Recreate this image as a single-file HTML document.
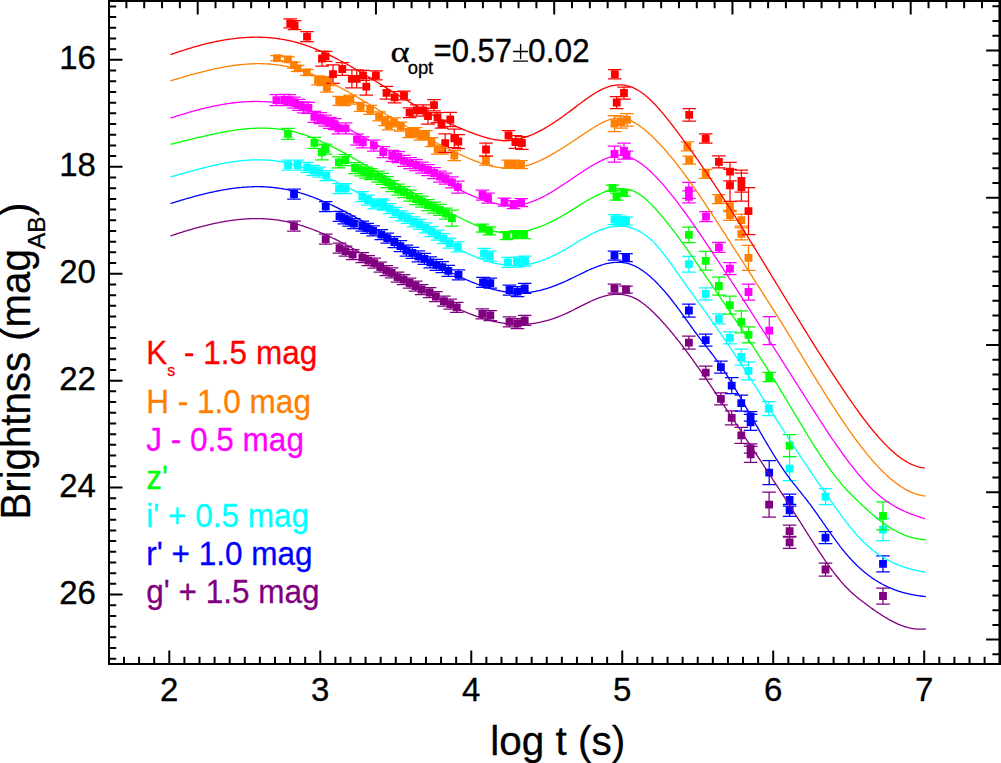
<!DOCTYPE html>
<html><head><meta charset="utf-8"><style>
html,body{margin:0;padding:0;background:#fff;}
svg{display:block;}
text{font-family:"Liberation Sans",sans-serif;fill:#000;stroke:#000;stroke-width:0.3px;}
.t33{font-size:33px;}
.t335{font-size:33.5px;}
.t405{font-size:40.5px;}
.t426{font-size:42.6px;}
.tser{font-size:33px;font-family:"Liberation Serif",serif;}
</style></head><body>
<svg width="1001" height="763" viewBox="0 0 1001 763">
<path d="M294.00 221.20V231.20M287.20 221.20H300.80M287.20 231.20H300.80M325.70 234.10V244.10M318.90 234.10H332.50M318.90 244.10H332.50M339.50 243.10V253.10M332.70 243.10H346.30M332.70 253.10H346.30M345.50 246.10V256.10M338.70 246.10H352.30M338.70 256.10H352.30M352.70 249.70V259.70M345.90 249.70H359.50M345.90 259.70H359.50M362.30 252.70V262.70M355.50 252.70H369.10M355.50 262.70H369.10M368.30 255.70V265.70M361.50 255.70H375.10M361.50 265.70H375.10M374.30 258.10V268.10M367.50 258.10H381.10M367.50 268.10H381.10M380.30 262.00V272.00M373.50 262.00H387.10M373.50 272.00H387.10M386.30 265.60V275.60M379.50 265.60H393.10M379.50 275.60H393.10M391.60 267.80V277.80M384.80 267.80H398.40M384.80 277.80H398.40M397.60 272.10V282.10M390.80 272.10H404.40M390.80 282.10H404.40M403.60 274.70V284.70M396.80 274.70H410.40M396.80 284.70H410.40M409.60 278.00V288.00M402.80 278.00H416.40M402.80 288.00H416.40M415.60 281.00V291.00M408.80 281.00H422.40M408.80 291.00H422.40M421.60 284.50V294.50M414.80 284.50H428.40M414.80 294.50H428.40M429.60 287.50V297.50M422.80 287.50H436.40M422.80 297.50H436.40M435.90 291.50V301.50M429.10 291.50H442.70M429.10 301.50H442.70M443.90 296.10V306.10M437.10 296.10H450.70M437.10 306.10H450.70M450.30 299.20V309.20M443.50 299.20H457.10M443.50 309.20H457.10M456.70 302.40V312.40M449.90 302.40H463.50M449.90 312.40H463.50M482.30 308.90V318.90M475.50 308.90H489.10M475.50 318.90H489.10M490.30 310.50V320.50M483.50 310.50H497.10M483.50 320.50H497.10M509.50 316.90V326.90M502.70 316.90H516.30M502.70 326.90H516.30M517.50 318.50V328.50M510.70 318.50H524.30M510.70 328.50H524.30M524.70 315.30V325.30M517.90 315.30H531.50M517.90 325.30H531.50M614.50 284.00V293.00M607.70 284.00H621.30M607.70 293.00H621.30M626.00 286.00V293.00M619.20 286.00H632.80M619.20 293.00H632.80M688.90 336.10V349.10M682.10 336.10H695.70M682.10 349.10H695.70M705.70 366.10V379.10M698.90 366.10H712.50M698.90 379.10H712.50M720.90 392.90V404.90M714.10 392.90H727.70M714.10 404.90H727.70M731.70 410.80V424.80M724.90 410.80H738.50M724.90 424.80H738.50M741.30 427.40V443.40M734.50 427.40H748.10M734.50 443.40H748.10M750.60 443.80V453.20M743.80 443.80H757.40M743.80 453.20H757.40M750.60 446.40V462.40M743.80 446.40H757.40M743.80 462.40H757.40M769.10 492.20V517.20M762.30 492.20H775.90M762.30 517.20H775.90M789.60 525.20V537.20M782.80 525.20H796.40M782.80 537.20H796.40M789.60 536.40V548.40M782.80 536.40H796.40M782.80 548.40H796.40M825.50 563.00V576.00M818.70 563.00H832.30M818.70 576.00H832.30M883.00 588.00V604.00M876.20 588.00H889.80M876.20 604.00H889.80" stroke="#800080" stroke-width="1.25" fill="none"/>
<path d="M290.10 222.30h7.8v7.8h-7.8zM321.80 235.20h7.8v7.8h-7.8zM335.60 244.20h7.8v7.8h-7.8zM341.60 247.20h7.8v7.8h-7.8zM348.80 250.80h7.8v7.8h-7.8zM358.40 253.80h7.8v7.8h-7.8zM364.40 256.80h7.8v7.8h-7.8zM370.40 259.20h7.8v7.8h-7.8zM376.40 263.10h7.8v7.8h-7.8zM382.40 266.70h7.8v7.8h-7.8zM387.70 268.90h7.8v7.8h-7.8zM393.70 273.20h7.8v7.8h-7.8zM399.70 275.80h7.8v7.8h-7.8zM405.70 279.10h7.8v7.8h-7.8zM411.70 282.10h7.8v7.8h-7.8zM417.70 285.60h7.8v7.8h-7.8zM425.70 288.60h7.8v7.8h-7.8zM432.00 292.60h7.8v7.8h-7.8zM440.00 297.20h7.8v7.8h-7.8zM446.40 300.30h7.8v7.8h-7.8zM452.80 303.50h7.8v7.8h-7.8zM478.40 310.00h7.8v7.8h-7.8zM486.40 311.60h7.8v7.8h-7.8zM505.60 318.00h7.8v7.8h-7.8zM513.60 319.60h7.8v7.8h-7.8zM520.80 316.40h7.8v7.8h-7.8zM610.60 284.60h7.8v7.8h-7.8zM622.10 285.60h7.8v7.8h-7.8zM685.00 338.70h7.8v7.8h-7.8zM701.80 368.70h7.8v7.8h-7.8zM717.00 395.00h7.8v7.8h-7.8zM727.80 413.90h7.8v7.8h-7.8zM737.40 431.50h7.8v7.8h-7.8zM746.70 444.60h7.8v7.8h-7.8zM746.70 450.50h7.8v7.8h-7.8zM765.20 500.80h7.8v7.8h-7.8zM785.70 527.30h7.8v7.8h-7.8zM785.70 538.50h7.8v7.8h-7.8zM821.60 565.60h7.8v7.8h-7.8zM879.10 592.10h7.8v7.8h-7.8z" fill="#800080"/>
<path d="M294.00 189.00V199.00M287.20 189.00H300.80M287.20 199.00H300.80M325.70 201.50V211.50M318.90 201.50H332.50M318.90 211.50H332.50M339.50 211.40V221.40M332.70 211.40H346.30M332.70 221.40H346.30M344.30 213.80V223.80M337.50 213.80H351.10M337.50 223.80H351.10M349.10 216.20V226.20M342.30 216.20H355.90M342.30 226.20H355.90M353.90 218.60V228.60M347.10 218.60H360.70M347.10 228.60H360.70M362.30 221.00V231.00M355.50 221.00H369.10M355.50 231.00H369.10M367.10 223.40V233.40M360.30 223.40H373.90M360.30 233.40H373.90M373.10 225.80V235.80M366.30 225.80H379.90M366.30 235.80H379.90M381.30 229.60V239.60M374.50 229.60H388.10M374.50 239.60H388.10M387.30 233.20V243.20M380.50 233.20H394.10M380.50 243.20H394.10M394.40 236.50V247.50M387.60 236.50H401.20M387.60 247.50H401.20M400.40 240.70V251.70M393.60 240.70H407.20M393.60 251.70H407.20M406.40 245.00V256.00M399.60 245.00H413.20M399.60 256.00H413.20M412.40 247.30V258.30M405.60 247.30H419.20M405.60 258.30H419.20M418.40 250.90V261.90M411.60 250.90H425.20M411.60 261.90H425.20M424.40 253.30V264.30M417.60 253.30H431.20M417.60 264.30H431.20M430.30 256.90V267.90M423.50 256.90H437.10M423.50 267.90H437.10M436.30 259.30V270.30M429.50 259.30H443.10M429.50 270.30H443.10M442.30 261.70V272.70M435.50 261.70H449.10M435.50 272.70H449.10M448.30 265.30V276.30M441.50 265.30H455.10M441.50 276.30H455.10M458.50 269.80V279.80M451.70 269.80H465.30M451.70 279.80H465.30M483.00 277.30V287.30M476.20 277.30H489.80M476.20 287.30H489.80M490.30 278.20V288.20M483.50 278.20H497.10M483.50 288.20H497.10M509.50 285.00V295.00M502.70 285.00H516.30M502.70 295.00H516.30M517.50 286.60V296.60M510.70 286.60H524.30M510.70 296.60H524.30M524.70 283.40V293.40M517.90 283.40H531.50M517.90 293.40H531.50M614.50 251.00V260.00M607.70 251.00H621.30M607.70 260.00H621.30M626.00 253.50V261.50M619.20 253.50H632.80M619.20 261.50H632.80M688.90 304.00V317.00M682.10 304.00H695.70M682.10 317.00H695.70M705.70 334.20V346.20M698.90 334.20H712.50M698.90 346.20H712.50M720.90 361.20V373.20M714.10 361.20H727.70M714.10 373.20H727.70M731.70 377.70V393.70M724.90 377.70H738.50M724.90 393.70H738.50M741.30 395.10V411.10M734.50 395.10H748.10M734.50 411.10H748.10M750.60 411.70V421.10M743.80 411.70H757.40M743.80 421.10H757.40M750.60 414.30V430.30M743.80 414.30H757.40M743.80 430.30H757.40M769.20 460.70V484.70M762.40 460.70H776.00M762.40 484.70H776.00M789.60 494.00V506.00M782.80 494.00H796.40M782.80 506.00H796.40M789.60 504.30V516.30M782.80 504.30H796.40M782.80 516.30H796.40M825.50 531.60V543.60M818.70 531.60H832.30M818.70 543.60H832.30M883.00 555.80V571.80M876.20 555.80H889.80M876.20 571.80H889.80" stroke="#0000ff" stroke-width="1.25" fill="none"/>
<path d="M290.10 190.10h7.8v7.8h-7.8zM321.80 202.60h7.8v7.8h-7.8zM335.60 212.50h7.8v7.8h-7.8zM340.40 214.90h7.8v7.8h-7.8zM345.20 217.30h7.8v7.8h-7.8zM350.00 219.70h7.8v7.8h-7.8zM358.40 222.10h7.8v7.8h-7.8zM363.20 224.50h7.8v7.8h-7.8zM369.20 226.90h7.8v7.8h-7.8zM377.40 230.70h7.8v7.8h-7.8zM383.40 234.30h7.8v7.8h-7.8zM390.50 238.10h7.8v7.8h-7.8zM396.50 242.30h7.8v7.8h-7.8zM402.50 246.60h7.8v7.8h-7.8zM408.50 248.90h7.8v7.8h-7.8zM414.50 252.50h7.8v7.8h-7.8zM420.50 254.90h7.8v7.8h-7.8zM426.40 258.50h7.8v7.8h-7.8zM432.40 260.90h7.8v7.8h-7.8zM438.40 263.30h7.8v7.8h-7.8zM444.40 266.90h7.8v7.8h-7.8zM454.60 270.90h7.8v7.8h-7.8zM479.10 278.40h7.8v7.8h-7.8zM486.40 279.30h7.8v7.8h-7.8zM505.60 286.10h7.8v7.8h-7.8zM513.60 287.70h7.8v7.8h-7.8zM520.80 284.50h7.8v7.8h-7.8zM610.60 251.60h7.8v7.8h-7.8zM622.10 253.60h7.8v7.8h-7.8zM685.00 306.60h7.8v7.8h-7.8zM701.80 336.30h7.8v7.8h-7.8zM717.00 363.30h7.8v7.8h-7.8zM727.80 381.80h7.8v7.8h-7.8zM737.40 399.20h7.8v7.8h-7.8zM746.70 412.50h7.8v7.8h-7.8zM746.70 418.40h7.8v7.8h-7.8zM765.30 468.80h7.8v7.8h-7.8zM785.70 496.10h7.8v7.8h-7.8zM785.70 506.40h7.8v7.8h-7.8zM821.60 533.70h7.8v7.8h-7.8zM879.10 559.90h7.8v7.8h-7.8z" fill="#0000ff"/>
<path d="M288.00 160.20V170.20M281.20 160.20H294.80M281.20 170.20H294.80M297.60 160.00V170.00M290.80 160.00H304.40M290.80 170.00H304.40M307.20 162.40V172.40M300.40 162.40H314.00M300.40 172.40H314.00M313.20 165.30V175.30M306.40 165.30H320.00M306.40 175.30H320.00M319.10 167.10V177.10M312.30 167.10H325.90M312.30 177.10H325.90M326.30 170.70V180.70M319.50 170.70H333.10M319.50 180.70H333.10M339.00 183.50V193.50M332.20 183.50H345.80M332.20 193.50H345.80M345.50 183.50V193.50M338.70 183.50H352.30M338.70 193.50H352.30M362.30 191.70V201.70M355.50 191.70H369.10M355.50 201.70H369.10M368.00 195.00V205.00M361.20 195.00H374.80M361.20 205.00H374.80M374.30 198.90V208.90M367.50 198.90H381.10M367.50 208.90H381.10M381.50 198.90V208.90M374.70 198.90H388.30M374.70 208.90H388.30M383.60 200.10V210.10M376.80 200.10H390.40M376.80 210.10H390.40M389.60 203.70V213.70M382.80 203.70H396.40M382.80 213.70H396.40M395.60 207.30V217.30M388.80 207.30H402.40M388.80 217.30H402.40M401.60 210.90V220.90M394.80 210.90H408.40M394.80 220.90H408.40M407.60 213.30V223.30M400.80 213.30H414.40M400.80 223.30H414.40M413.60 216.90V226.90M406.80 216.90H420.40M406.80 226.90H420.40M419.60 219.30V229.30M412.80 219.30H426.40M412.80 229.30H426.40M425.60 222.90V232.90M418.80 222.90H432.40M418.80 232.90H432.40M431.50 226.50V236.50M424.70 226.50H438.30M424.70 236.50H438.30M437.50 230.10V240.10M430.70 230.10H444.30M430.70 240.10H444.30M443.50 233.70V243.70M436.70 233.70H450.30M436.70 243.70H450.30M449.50 238.20V248.20M442.70 238.20H456.30M442.70 248.20H456.30M457.90 241.80V251.80M451.10 241.80H464.70M451.10 251.80H464.70M484.00 248.40V258.40M477.20 248.40H490.80M477.20 258.40H490.80M490.00 251.00V261.00M483.20 251.00H496.80M483.20 261.00H496.80M508.00 257.40V267.40M501.20 257.40H514.80M501.20 267.40H514.80M517.00 257.00V267.00M510.20 257.00H523.80M510.20 267.00H523.80M525.00 256.00V266.00M518.20 256.00H531.80M518.20 266.00H531.80M614.50 214.50V224.50M607.70 214.50H621.30M607.70 224.50H621.30M620.00 216.00V226.00M613.20 216.00H626.80M613.20 226.00H626.80M626.00 217.00V225.00M619.20 217.00H632.80M619.20 225.00H632.80M688.90 256.40V272.00M682.10 256.40H695.70M682.10 272.00H695.70M705.70 287.80V299.80M698.90 287.80H712.50M698.90 299.80H712.50M718.90 313.90V323.90M712.10 313.90H725.70M712.10 323.90H725.70M729.90 331.80V343.80M723.10 331.80H736.70M723.10 343.80H736.70M741.30 349.00V365.00M734.50 349.00H748.10M734.50 365.00H748.10M748.50 361.80V379.80M741.70 361.80H755.30M741.70 379.80H755.30M768.80 401.70V415.70M762.00 401.70H775.60M762.00 415.70H775.60M789.60 456.70V480.70M782.80 456.70H796.40M782.80 480.70H796.40M825.50 488.70V504.70M818.70 488.70H832.30M818.70 504.70H832.30M883.00 518.70V540.70M876.20 518.70H889.80M876.20 540.70H889.80" stroke="#00ffff" stroke-width="1.25" fill="none"/>
<path d="M284.10 161.30h7.8v7.8h-7.8zM293.70 161.10h7.8v7.8h-7.8zM303.30 163.50h7.8v7.8h-7.8zM309.30 166.40h7.8v7.8h-7.8zM315.20 168.20h7.8v7.8h-7.8zM322.40 171.80h7.8v7.8h-7.8zM335.10 184.60h7.8v7.8h-7.8zM341.60 184.60h7.8v7.8h-7.8zM358.40 192.80h7.8v7.8h-7.8zM364.10 196.10h7.8v7.8h-7.8zM370.40 200.00h7.8v7.8h-7.8zM377.60 200.00h7.8v7.8h-7.8zM379.70 201.20h7.8v7.8h-7.8zM385.70 204.80h7.8v7.8h-7.8zM391.70 208.40h7.8v7.8h-7.8zM397.70 212.00h7.8v7.8h-7.8zM403.70 214.40h7.8v7.8h-7.8zM409.70 218.00h7.8v7.8h-7.8zM415.70 220.40h7.8v7.8h-7.8zM421.70 224.00h7.8v7.8h-7.8zM427.60 227.60h7.8v7.8h-7.8zM433.60 231.20h7.8v7.8h-7.8zM439.60 234.80h7.8v7.8h-7.8zM445.60 239.30h7.8v7.8h-7.8zM454.00 242.90h7.8v7.8h-7.8zM480.10 249.50h7.8v7.8h-7.8zM486.10 252.10h7.8v7.8h-7.8zM504.10 258.50h7.8v7.8h-7.8zM513.10 258.10h7.8v7.8h-7.8zM521.10 257.10h7.8v7.8h-7.8zM610.60 215.60h7.8v7.8h-7.8zM616.10 217.10h7.8v7.8h-7.8zM622.10 217.10h7.8v7.8h-7.8zM685.00 260.30h7.8v7.8h-7.8zM701.80 289.90h7.8v7.8h-7.8zM715.00 315.00h7.8v7.8h-7.8zM726.00 333.90h7.8v7.8h-7.8zM737.40 353.10h7.8v7.8h-7.8zM744.60 366.90h7.8v7.8h-7.8zM764.90 404.80h7.8v7.8h-7.8zM785.70 464.80h7.8v7.8h-7.8zM821.60 492.80h7.8v7.8h-7.8zM879.10 525.80h7.8v7.8h-7.8z" fill="#00ffff"/>
<path d="M288.00 128.30V139.30M281.20 128.30H294.80M281.20 139.30H294.80M314.40 137.30V148.30M307.60 137.30H321.20M307.60 148.30H321.20M321.90 144.80V159.80M315.10 144.80H328.70M315.10 159.80H328.70M325.60 144.20V154.20M318.80 144.20H332.40M318.80 154.20H332.40M338.90 156.80V167.80M332.10 156.80H345.70M332.10 167.80H345.70M345.50 154.50V165.50M338.70 154.50H352.30M338.70 165.50H352.30M355.10 162.50V173.50M348.30 162.50H361.90M348.30 173.50H361.90M361.10 164.80V175.80M354.30 164.80H367.90M354.30 175.80H367.90M366.00 167.20V178.20M359.20 167.20H372.80M359.20 178.20H372.80M370.80 168.50V179.50M364.00 168.50H377.60M364.00 179.50H377.60M378.00 171.20V182.20M371.20 171.20H384.80M371.20 182.20H384.80M382.40 173.30V184.30M375.60 173.30H389.20M375.60 184.30H389.20M387.20 176.70V187.70M380.40 176.70H394.00M380.40 187.70H394.00M392.00 180.50V191.50M385.20 180.50H398.80M385.20 191.50H398.80M398.00 184.10V195.10M391.20 184.10H404.80M391.20 195.10H404.80M404.00 186.50V197.50M397.20 186.50H410.80M397.20 197.50H410.80M410.00 190.10V201.10M403.20 190.10H416.80M403.20 201.10H416.80M416.00 193.60V204.60M409.20 193.60H422.80M409.20 204.60H422.80M422.00 196.00V207.00M415.20 196.00H428.80M415.20 207.00H428.80M428.00 199.60V210.60M421.20 199.60H434.80M421.20 210.60H434.80M434.00 202.00V213.00M427.20 202.00H440.80M427.20 213.00H440.80M439.90 204.40V215.40M433.10 204.40H446.70M433.10 215.40H446.70M445.90 208.00V219.00M439.10 208.00H452.70M439.10 219.00H452.70M451.90 210.20V226.20M445.10 210.20H458.70M445.10 226.20H458.70M482.50 224.00V232.00M475.70 224.00H489.30M475.70 232.00H489.30M489.30 226.80V234.80M482.50 226.80H496.10M482.50 234.80H496.10M506.50 231.50V239.50M499.70 231.50H513.30M499.70 239.50H513.30M516.00 230.50V238.50M509.20 230.50H522.80M509.20 238.50H522.80M524.00 230.50V238.50M517.20 230.50H530.80M517.20 238.50H530.80M612.50 185.00V191.00M605.70 185.00H619.30M605.70 191.00H619.30M616.50 193.00V200.00M609.70 193.00H623.30M609.70 200.00H623.30M624.00 190.00V196.00M617.20 190.00H630.80M617.20 196.00H630.80M688.90 227.00V242.60M682.10 227.00H695.70M682.10 242.60H695.70M705.70 251.40V270.20M698.90 251.40H712.50M698.90 270.20H712.50M718.90 277.00V295.00M712.10 277.00H725.70M712.10 295.00H725.70M729.90 296.10V314.10M723.10 296.10H736.70M723.10 314.10H736.70M741.30 310.90V332.90M734.50 310.90H748.10M734.50 332.90H748.10M748.50 326.80V342.80M741.70 326.80H755.30M741.70 342.80H755.30M769.20 372.30V381.70M762.40 372.30H776.00M762.40 381.70H776.00M789.60 434.60V456.60M782.80 434.60H796.40M782.80 456.60H796.40M883.00 501.80V529.80M876.20 501.80H889.80M876.20 529.80H889.80" stroke="#00ff00" stroke-width="1.25" fill="none"/>
<path d="M284.10 129.90h7.8v7.8h-7.8zM310.50 138.90h7.8v7.8h-7.8zM318.00 148.40h7.8v7.8h-7.8zM321.70 145.30h7.8v7.8h-7.8zM335.00 158.40h7.8v7.8h-7.8zM341.60 156.10h7.8v7.8h-7.8zM351.20 164.10h7.8v7.8h-7.8zM357.20 166.40h7.8v7.8h-7.8zM362.10 168.80h7.8v7.8h-7.8zM366.90 170.10h7.8v7.8h-7.8zM374.10 172.80h7.8v7.8h-7.8zM378.50 174.90h7.8v7.8h-7.8zM383.30 178.30h7.8v7.8h-7.8zM388.10 182.10h7.8v7.8h-7.8zM394.10 185.70h7.8v7.8h-7.8zM400.10 188.10h7.8v7.8h-7.8zM406.10 191.70h7.8v7.8h-7.8zM412.10 195.20h7.8v7.8h-7.8zM418.10 197.60h7.8v7.8h-7.8zM424.10 201.20h7.8v7.8h-7.8zM430.10 203.60h7.8v7.8h-7.8zM436.00 206.00h7.8v7.8h-7.8zM442.00 209.60h7.8v7.8h-7.8zM448.00 214.30h7.8v7.8h-7.8zM478.60 224.10h7.8v7.8h-7.8zM485.40 226.90h7.8v7.8h-7.8zM502.60 231.60h7.8v7.8h-7.8zM512.10 230.60h7.8v7.8h-7.8zM520.10 230.60h7.8v7.8h-7.8zM608.60 184.10h7.8v7.8h-7.8zM612.60 192.60h7.8v7.8h-7.8zM620.10 189.10h7.8v7.8h-7.8zM685.00 230.90h7.8v7.8h-7.8zM701.80 256.90h7.8v7.8h-7.8zM715.00 282.10h7.8v7.8h-7.8zM726.00 301.20h7.8v7.8h-7.8zM737.40 318.00h7.8v7.8h-7.8zM744.60 330.90h7.8v7.8h-7.8zM765.30 373.10h7.8v7.8h-7.8zM785.70 441.70h7.8v7.8h-7.8zM879.10 511.90h7.8v7.8h-7.8z" fill="#00ff00"/>
<path d="M276.40 94.60V105.60M269.60 94.60H283.20M269.60 105.60H283.20M284.40 94.30V105.30M277.60 94.30H291.20M277.60 105.30H291.20M289.20 94.60V105.60M282.40 94.60H296.00M282.40 105.60H296.00M294.00 97.00V108.00M287.20 97.00H300.80M287.20 108.00H300.80M298.80 99.40V110.40M292.00 99.40H305.60M292.00 110.40H305.60M303.60 101.80V112.80M296.80 101.80H310.40M296.80 112.80H310.40M308.40 102.40V113.40M301.60 102.40H315.20M301.60 113.40H315.20M314.40 111.40V122.40M307.60 111.40H321.20M307.60 122.40H321.20M320.30 112.60V123.60M313.50 112.60H327.10M313.50 123.60H327.10M325.10 115.00V126.00M318.30 115.00H331.90M318.30 126.00H331.90M329.90 117.40V128.40M323.10 117.40H336.70M323.10 128.40H336.70M334.70 118.60V129.60M327.90 118.60H341.50M327.90 129.60H341.50M338.40 122.90V133.90M331.60 122.90H345.20M331.60 133.90H345.20M345.60 122.90V133.90M338.80 122.90H352.40M338.80 133.90H352.40M357.00 134.00V145.00M350.20 134.00H363.80M350.20 145.00H363.80M362.80 136.80V147.80M356.00 136.80H369.60M356.00 147.80H369.60M373.80 140.00V151.00M367.00 140.00H380.60M367.00 151.00H380.60M383.30 146.50V157.50M376.50 146.50H390.10M376.50 157.50H390.10M392.30 150.40V161.40M385.50 150.40H399.10M385.50 161.40H399.10M398.30 151.50V162.50M391.50 151.50H405.10M391.50 162.50H405.10M404.00 155.30V166.30M397.20 155.30H410.80M397.20 166.30H410.80M410.00 157.70V168.70M403.20 157.70H416.80M403.20 168.70H416.80M416.00 159.70V170.70M409.20 159.70H422.80M409.20 170.70H422.80M422.00 162.00V173.00M415.20 162.00H428.80M415.20 173.00H428.80M428.00 164.50V175.50M421.20 164.50H434.80M421.20 175.50H434.80M434.00 167.50V178.50M427.20 167.50H440.80M427.20 178.50H440.80M440.00 171.00V182.00M433.20 171.00H446.80M433.20 182.00H446.80M445.50 173.00V184.00M438.70 173.00H452.30M438.70 184.00H452.30M451.90 176.90V187.90M445.10 176.90H458.70M445.10 187.90H458.70M457.90 181.20V193.20M451.10 181.20H464.70M451.10 193.20H464.70M482.50 190.00V200.00M475.70 190.00H489.30M475.70 200.00H489.30M488.00 193.00V203.00M481.20 193.00H494.80M481.20 203.00H494.80M504.50 198.00V206.00M497.70 198.00H511.30M497.70 206.00H511.30M513.50 200.50V208.50M506.70 200.50H520.30M506.70 208.50H520.30M521.20 198.50V206.50M514.40 198.50H528.00M514.40 206.50H528.00M614.50 146.00V162.00M607.70 146.00H621.30M607.70 162.00H621.30M624.00 143.00V159.00M617.20 143.00H630.80M617.20 159.00H630.80M626.50 151.00V159.00M619.70 151.00H633.30M619.70 159.00H633.30M688.90 182.40V198.40M682.10 182.40H695.70M682.10 198.40H695.70M688.90 190.80V202.80M682.10 190.80H695.70M682.10 202.80H695.70M706.00 211.70V221.70M699.20 211.70H712.80M699.20 221.70H712.80M718.90 242.30V252.30M712.10 242.30H725.70M712.10 252.30H725.70M729.90 262.60V274.60M723.10 262.60H736.70M723.10 274.60H736.70M748.50 284.00V300.00M741.70 284.00H755.30M741.70 300.00H755.30M769.30 316.60V344.60M762.50 316.60H776.10M762.50 344.60H776.10" stroke="#ff00ff" stroke-width="1.25" fill="none"/>
<path d="M272.50 96.20h7.8v7.8h-7.8zM280.50 95.90h7.8v7.8h-7.8zM285.30 96.20h7.8v7.8h-7.8zM290.10 98.60h7.8v7.8h-7.8zM294.90 101.00h7.8v7.8h-7.8zM299.70 103.40h7.8v7.8h-7.8zM304.50 104.00h7.8v7.8h-7.8zM310.50 113.00h7.8v7.8h-7.8zM316.40 114.20h7.8v7.8h-7.8zM321.20 116.60h7.8v7.8h-7.8zM326.00 119.00h7.8v7.8h-7.8zM330.80 120.20h7.8v7.8h-7.8zM334.50 124.50h7.8v7.8h-7.8zM341.70 124.50h7.8v7.8h-7.8zM353.10 135.60h7.8v7.8h-7.8zM358.90 138.40h7.8v7.8h-7.8zM369.90 141.60h7.8v7.8h-7.8zM379.40 148.10h7.8v7.8h-7.8zM388.40 152.00h7.8v7.8h-7.8zM394.40 153.10h7.8v7.8h-7.8zM400.10 156.90h7.8v7.8h-7.8zM406.10 159.30h7.8v7.8h-7.8zM412.10 161.30h7.8v7.8h-7.8zM418.10 163.60h7.8v7.8h-7.8zM424.10 166.10h7.8v7.8h-7.8zM430.10 169.10h7.8v7.8h-7.8zM436.10 172.60h7.8v7.8h-7.8zM441.60 174.60h7.8v7.8h-7.8zM448.00 178.50h7.8v7.8h-7.8zM454.00 183.30h7.8v7.8h-7.8zM478.60 191.10h7.8v7.8h-7.8zM484.10 194.10h7.8v7.8h-7.8zM500.60 198.10h7.8v7.8h-7.8zM509.60 200.60h7.8v7.8h-7.8zM517.30 198.60h7.8v7.8h-7.8zM610.60 150.10h7.8v7.8h-7.8zM620.10 147.10h7.8v7.8h-7.8zM622.60 151.10h7.8v7.8h-7.8zM685.00 186.50h7.8v7.8h-7.8zM685.00 192.90h7.8v7.8h-7.8zM702.10 212.80h7.8v7.8h-7.8zM715.00 243.40h7.8v7.8h-7.8zM726.00 264.70h7.8v7.8h-7.8zM744.60 288.10h7.8v7.8h-7.8zM765.40 326.70h7.8v7.8h-7.8z" fill="#ff00ff"/>
<path d="M277.00 55.60V60.60M270.20 55.60H283.80M270.20 60.60H283.80M288.00 56.90V61.90M281.20 56.90H294.80M281.20 61.90H294.80M293.80 62.00V68.00M287.00 62.00H300.60M287.00 68.00H300.60M297.60 65.40V71.40M290.80 65.40H304.40M290.80 71.40H304.40M306.80 69.40V75.40M300.00 69.40H313.60M300.00 75.40H313.60M318.00 75.90V84.90M311.20 75.90H324.80M311.20 84.90H324.80M322.70 76.50V85.50M315.90 76.50H329.50M315.90 85.50H329.50M328.50 76.50V85.50M321.70 76.50H335.30M321.70 85.50H335.30M326.90 83.10V92.10M320.10 83.10H333.70M320.10 92.10H333.70M339.20 96.30V105.30M332.40 96.30H346.00M332.40 105.30H346.00M344.00 96.50V105.50M337.20 96.50H350.80M337.20 105.50H350.80M350.40 95.10V104.10M343.60 95.10H357.20M343.60 104.10H357.20M360.60 102.30V111.30M353.80 102.30H367.40M353.80 111.30H367.40M370.20 105.30V114.30M363.40 105.30H377.00M363.40 114.30H377.00M379.10 111.90V120.90M372.30 111.90H385.90M372.30 120.90H385.90M385.10 116.70V125.70M378.30 116.70H391.90M378.30 125.70H391.90M388.70 120.90V129.90M381.90 120.90H395.50M381.90 129.90H395.50M394.10 117.90V126.90M387.30 117.90H400.90M387.30 126.90H400.90M400.80 122.00V131.00M394.00 122.00H407.60M394.00 131.00H407.60M409.00 128.50V137.50M402.20 128.50H415.80M402.20 137.50H415.80M415.70 127.50V136.50M408.90 127.50H422.50M408.90 136.50H422.50M420.30 131.00V140.00M413.50 131.00H427.10M413.50 140.00H427.10M425.90 130.50V139.50M419.10 130.50H432.70M419.10 139.50H432.70M431.50 137.50V146.50M424.70 137.50H438.30M424.70 146.50H438.30M437.70 145.20V154.20M430.90 145.20H444.50M430.90 154.20H444.50M442.30 145.00V154.00M435.50 145.00H449.10M435.50 154.00H449.10M454.30 150.50V160.50M447.50 150.50H461.10M447.50 160.50H461.10M486.00 156.00V165.00M479.20 156.00H492.80M479.20 165.00H492.80M508.00 160.00V168.00M501.20 160.00H514.80M501.20 168.00H514.80M513.00 160.00V168.00M506.20 160.00H519.80M506.20 168.00H519.80M521.00 160.50V168.50M514.20 160.50H527.80M514.20 168.50H527.80M614.50 115.50V131.50M607.70 115.50H621.30M607.70 131.50H621.30M621.00 116.00V128.00M614.20 116.00H627.80M614.20 128.00H627.80M627.00 113.60V126.00M620.20 113.60H633.80M620.20 126.00H633.80M687.40 141.80V150.80M680.60 141.80H694.20M680.60 150.80H694.20M689.20 156.10V164.10M682.40 156.10H696.00M682.40 164.10H696.00M705.70 169.40V178.40M698.90 169.40H712.50M698.90 178.40H712.50M718.60 194.60V203.60M711.80 194.60H725.40M711.80 203.60H725.40M730.00 201.50V211.50M723.20 201.50H736.80M723.20 211.50H736.80M730.00 210.30V220.30M723.20 210.30H736.80M723.20 220.30H736.80M741.40 214.10V226.10M734.60 214.10H748.20M734.60 226.10H748.20M741.40 227.90V239.90M734.60 227.90H748.20M734.60 239.90H748.20M748.50 245.30V270.30M741.70 245.30H755.30M741.70 270.30H755.30" stroke="#ff8000" stroke-width="1.25" fill="none"/>
<path d="M273.10 54.20h7.8v7.8h-7.8zM284.10 55.50h7.8v7.8h-7.8zM289.90 61.10h7.8v7.8h-7.8zM293.70 64.50h7.8v7.8h-7.8zM302.90 68.50h7.8v7.8h-7.8zM314.10 76.50h7.8v7.8h-7.8zM318.80 77.10h7.8v7.8h-7.8zM324.60 77.10h7.8v7.8h-7.8zM323.00 83.70h7.8v7.8h-7.8zM335.30 96.90h7.8v7.8h-7.8zM340.10 97.10h7.8v7.8h-7.8zM346.50 95.70h7.8v7.8h-7.8zM356.70 102.90h7.8v7.8h-7.8zM366.30 105.90h7.8v7.8h-7.8zM375.20 112.50h7.8v7.8h-7.8zM381.20 117.30h7.8v7.8h-7.8zM384.80 121.50h7.8v7.8h-7.8zM390.20 118.50h7.8v7.8h-7.8zM396.90 122.60h7.8v7.8h-7.8zM405.10 129.10h7.8v7.8h-7.8zM411.80 128.10h7.8v7.8h-7.8zM416.40 131.60h7.8v7.8h-7.8zM422.00 131.10h7.8v7.8h-7.8zM427.60 138.10h7.8v7.8h-7.8zM433.80 145.80h7.8v7.8h-7.8zM438.40 145.60h7.8v7.8h-7.8zM450.40 151.60h7.8v7.8h-7.8zM482.10 156.60h7.8v7.8h-7.8zM504.10 160.10h7.8v7.8h-7.8zM509.10 160.10h7.8v7.8h-7.8zM517.10 160.60h7.8v7.8h-7.8zM610.60 119.60h7.8v7.8h-7.8zM617.10 118.10h7.8v7.8h-7.8zM623.10 115.90h7.8v7.8h-7.8zM683.50 142.40h7.8v7.8h-7.8zM685.30 156.20h7.8v7.8h-7.8zM701.80 170.00h7.8v7.8h-7.8zM714.70 195.20h7.8v7.8h-7.8zM726.10 202.60h7.8v7.8h-7.8zM726.10 211.40h7.8v7.8h-7.8zM737.50 216.20h7.8v7.8h-7.8zM737.50 230.00h7.8v7.8h-7.8zM744.60 253.90h7.8v7.8h-7.8z" fill="#ff8000"/>
<path d="M290.20 18.90V27.90M283.40 18.90H297.00M283.40 27.90H297.00M294.60 20.70V29.70M287.80 20.70H301.40M287.80 29.70H301.40M307.00 31.70V41.50M300.20 31.70H313.80M300.20 41.50H313.80M322.00 51.00V66.00M315.20 51.00H328.80M315.20 66.00H328.80M325.60 51.30V61.30M318.80 51.30H332.40M318.80 61.30H332.40M333.00 64.80V83.40M326.20 64.80H339.80M326.20 83.40H339.80M342.30 62.70V75.30M335.50 62.70H349.10M335.50 75.30H349.10M351.90 69.90V87.90M345.10 69.90H358.70M345.10 87.90H358.70M356.70 69.90V87.90M349.90 69.90H363.50M349.90 87.90H363.50M363.00 70.30V80.30M356.20 70.30H369.80M356.20 80.30H369.80M366.30 78.30V95.10M359.50 78.30H373.10M359.50 95.10H373.10M375.90 70.80V79.80M369.10 70.80H382.70M369.10 79.80H382.70M386.50 86.40V99.20M379.70 86.40H393.30M379.70 99.20H393.30M394.60 91.70V102.90M387.80 91.70H401.40M387.80 102.90H401.40M404.00 91.10V99.90M397.20 91.10H410.80M397.20 99.90H410.80M409.60 107.90V117.50M402.80 107.90H416.40M402.80 117.50H416.40M416.80 104.80V116.00M410.00 104.80H423.60M410.00 116.00H423.60M423.20 104.80V116.00M416.40 104.80H430.00M416.40 116.00H430.00M428.00 108.00V124.00M421.20 108.00H434.80M421.20 124.00H434.80M434.00 99.60V110.80M427.20 99.60H440.80M427.20 110.80H440.80M437.50 112.50V122.50M430.70 112.50H444.30M430.70 122.50H444.30M441.50 120.00V128.00M434.70 120.00H448.30M434.70 128.00H448.30M450.30 112.30V126.70M443.50 112.30H457.10M443.50 126.70H457.10M445.20 133.90V152.30M438.40 133.90H452.00M438.40 152.30H452.00M454.30 129.10V147.50M447.50 129.10H461.10M447.50 147.50H461.10M458.30 134.50V148.50M451.50 134.50H465.10M451.50 148.50H465.10M486.00 143.00V156.00M479.20 143.00H492.80M479.20 156.00H492.80M508.50 130.50V140.50M501.70 130.50H515.30M501.70 140.50H515.30M515.40 135.60V148.40M508.60 135.60H522.20M508.60 148.40H522.20M521.90 136.60V149.40M515.10 136.60H528.70M515.10 149.40H528.70M614.80 69.50V78.90M608.00 69.50H621.60M608.00 78.90H621.60M624.00 87.00V99.00M617.20 87.00H630.80M617.20 99.00H630.80M616.70 96.50V108.50M609.90 96.50H623.50M609.90 108.50H623.50M689.20 108.70V121.10M682.40 108.70H696.00M682.40 121.10H696.00M705.70 133.90V143.10M698.90 133.90H712.50M698.90 143.10H712.50M718.90 155.90V167.90M712.10 155.90H725.70M712.10 167.90H725.70M730.00 162.40V180.80M723.20 162.40H736.80M723.20 180.80H736.80M730.00 169.40V201.40M723.20 169.40H736.80M723.20 201.40H736.80M741.40 170.00V192.00M734.60 170.00H748.20M734.60 192.00H748.20M741.40 173.00V201.00M734.60 173.00H748.20M734.60 201.00H748.20M748.50 187.60V234.60M741.70 187.60H755.30M741.70 234.60H755.30" stroke="#ff0000" stroke-width="1.25" fill="none"/>
<path d="M286.30 19.50h7.8v7.8h-7.8zM290.70 21.30h7.8v7.8h-7.8zM303.10 32.70h7.8v7.8h-7.8zM318.10 54.60h7.8v7.8h-7.8zM321.70 52.40h7.8v7.8h-7.8zM329.10 70.20h7.8v7.8h-7.8zM338.40 65.10h7.8v7.8h-7.8zM348.00 75.00h7.8v7.8h-7.8zM352.80 75.00h7.8v7.8h-7.8zM359.10 71.40h7.8v7.8h-7.8zM362.40 82.80h7.8v7.8h-7.8zM372.00 71.40h7.8v7.8h-7.8zM382.60 88.90h7.8v7.8h-7.8zM390.70 93.40h7.8v7.8h-7.8zM400.10 91.60h7.8v7.8h-7.8zM405.70 108.80h7.8v7.8h-7.8zM412.90 106.50h7.8v7.8h-7.8zM419.30 106.50h7.8v7.8h-7.8zM424.10 112.10h7.8v7.8h-7.8zM430.10 101.30h7.8v7.8h-7.8zM433.60 113.60h7.8v7.8h-7.8zM437.60 120.10h7.8v7.8h-7.8zM446.40 115.60h7.8v7.8h-7.8zM441.30 139.20h7.8v7.8h-7.8zM450.40 134.40h7.8v7.8h-7.8zM454.40 137.60h7.8v7.8h-7.8zM482.10 145.60h7.8v7.8h-7.8zM504.60 131.60h7.8v7.8h-7.8zM511.50 138.10h7.8v7.8h-7.8zM518.00 139.10h7.8v7.8h-7.8zM610.90 70.30h7.8v7.8h-7.8zM620.10 89.10h7.8v7.8h-7.8zM612.80 98.60h7.8v7.8h-7.8zM685.30 111.00h7.8v7.8h-7.8zM701.80 134.60h7.8v7.8h-7.8zM715.00 158.00h7.8v7.8h-7.8zM726.10 167.70h7.8v7.8h-7.8zM726.10 181.50h7.8v7.8h-7.8zM737.50 177.10h7.8v7.8h-7.8zM737.50 183.10h7.8v7.8h-7.8zM744.60 207.20h7.8v7.8h-7.8z" fill="#ff0000"/>
<path d="M170.5 235.91 171.5 235.58 172.5 235.25 173.5 234.91 174.5 234.58 175.5 234.26 176.5 233.93 177.5 233.61 178.5 233.28 179.5 232.96 180.5 232.65 181.5 232.33 182.5 232.02 183.5 231.70 184.5 231.39 185.5 231.09 186.5 230.78 187.5 230.48 188.5 230.18 189.5 229.88 190.5 229.59 191.5 229.30 192.5 229.01 193.5 228.72 194.5 228.44 195.5 228.16 196.5 227.88 197.5 227.61 198.5 227.33 199.5 227.07 200.5 226.80 201.5 226.54 202.5 226.28 203.5 226.02 204.5 225.77 205.5 225.52 206.5 225.28 207.5 225.03 208.5 224.80 209.5 224.56 210.5 224.33 211.5 224.10 212.5 223.88 213.5 223.66 214.5 223.44 215.5 223.23 216.5 223.02 217.5 222.82 218.5 222.62 219.5 222.43 220.5 222.23 221.5 222.05 222.5 221.86 223.5 221.69 224.5 221.51 225.5 221.34 226.5 221.18 227.5 221.02 228.5 220.86 229.5 220.71 230.5 220.57 231.5 220.42 232.5 220.29 233.5 220.16 234.5 220.03 235.5 219.91 236.5 219.79 237.5 219.68 238.5 219.57 239.5 219.47 240.5 219.38 241.5 219.29 242.5 219.20 243.5 219.12 244.5 219.05 245.5 218.98 246.5 218.92 247.5 218.86 248.5 218.81 249.5 218.76 250.5 218.72 251.5 218.69 252.5 218.66 253.5 218.64 254.5 218.62 255.5 218.61 256.5 218.61 257.5 218.61 258.5 218.62 259.5 218.64 260.5 218.66 261.5 218.69 262.5 218.72 263.5 218.76 264.5 218.81 265.5 218.86 266.5 218.92 267.5 218.99 268.5 219.07 269.5 219.15 270.5 219.24 271.5 219.33 272.5 219.43 273.5 219.54 274.5 219.66 275.5 219.78 276.5 219.91 277.5 220.05 278.5 220.20 279.5 220.35 280.5 220.51 281.5 220.68 282.5 220.85 283.5 221.03 284.5 221.22 285.5 221.42 286.5 221.63 287.5 221.84 288.5 222.06 289.5 222.29 290.5 222.52 291.5 222.76 292.5 223.01 293.5 223.27 294.5 223.53 295.5 223.80 296.5 224.08 297.5 224.36 298.5 224.65 299.5 224.95 300.5 225.25 301.5 225.56 302.5 225.88 303.5 226.20 304.5 226.53 305.5 226.86 306.5 227.20 307.5 227.55 308.5 227.91 309.5 228.26 310.5 228.63 311.5 229.00 312.5 229.38 313.5 229.76 314.5 230.15 315.5 230.54 316.5 230.94 317.5 231.34 318.5 231.75 319.5 232.16 320.5 232.58 321.5 233.01 322.5 233.44 323.5 233.87 324.5 234.31 325.5 234.76 326.5 235.21 327.5 235.66 328.5 236.12 329.5 236.58 330.5 237.05 331.5 237.52 332.5 238.00 333.5 238.48 334.5 238.96 335.5 239.45 336.5 239.94 337.5 240.44 338.5 240.94 339.5 241.45 340.5 241.95 341.5 242.47 342.5 242.98 343.5 243.50 344.5 244.02 345.5 244.55 346.5 245.08 347.5 245.61 348.5 246.15 349.5 246.69 350.5 247.23 351.5 247.78 352.5 248.32 353.5 248.88 354.5 249.43 355.5 249.99 356.5 250.55 357.5 251.11 358.5 251.67 359.5 252.24 360.5 252.81 361.5 253.38 362.5 253.96 363.5 254.53 364.5 255.11 365.5 255.69 366.5 256.28 367.5 256.86 368.5 257.45 369.5 258.04 370.5 258.63 371.5 259.22 372.5 259.81 373.5 260.40 374.5 261.00 375.5 261.60 376.5 262.20 377.5 262.80 378.5 263.40 379.5 264.00 380.5 264.60 381.5 265.21 382.5 265.81 383.5 266.42 384.5 267.03 385.5 267.64 386.5 268.24 387.5 268.85 388.5 269.46 389.5 270.07 390.5 270.68 391.5 271.29 392.5 271.90 393.5 272.51 394.5 273.12 395.5 273.73 396.5 274.34 397.5 274.96 398.5 275.57 399.5 276.18 400.5 276.79 401.5 277.39 402.5 278.00 403.5 278.61 404.5 279.22 405.5 279.83 406.5 280.43 407.5 281.04 408.5 281.64 409.5 282.25 410.5 282.85 411.5 283.45 412.5 284.05 413.5 284.65 414.5 285.25 415.5 285.84 416.5 286.44 417.5 287.03 418.5 287.62 419.5 288.21 420.5 288.80 421.5 289.39 422.5 289.97 423.5 290.55 424.5 291.13 425.5 291.71 426.5 292.28 427.5 292.86 428.5 293.43 429.5 293.99 430.5 294.56 431.5 295.12 432.5 295.68 433.5 296.24 434.5 296.79 435.5 297.34 436.5 297.89 437.5 298.43 438.5 298.97 439.5 299.51 440.5 300.05 441.5 300.58 442.5 301.10 443.5 301.63 444.5 302.15 445.5 302.66 446.5 303.17 447.5 303.68 448.5 304.19 449.5 304.69 450.5 305.18 451.5 305.67 452.5 306.16 453.5 306.64 454.5 307.12 455.5 307.59 456.5 308.06 457.5 308.52 458.5 308.98 459.5 309.43 460.5 309.88 461.5 310.32 462.5 310.76 463.5 311.19 464.5 311.62 465.5 312.04 466.5 312.46 467.5 312.87 468.5 313.27 469.5 313.67 470.5 314.07 471.5 314.45 472.5 314.83 473.5 315.21 474.5 315.58 475.5 315.94 476.5 316.30 477.5 316.65 478.5 316.99 479.5 317.33 480.5 317.66 481.5 317.98 482.5 318.29 483.5 318.60 484.5 318.91 485.5 319.20 486.5 319.49 487.5 319.77 488.5 320.04 489.5 320.31 490.5 320.57 491.5 320.82 492.5 321.06 493.5 321.30 494.5 321.53 495.5 321.75 496.5 321.96 497.5 322.16 498.5 322.36 499.5 322.54 500.5 322.72 501.5 322.89 502.5 323.06 503.5 323.21 504.5 323.35 505.5 323.49 506.5 323.62 507.5 323.74 508.5 323.85 509.5 323.95 510.5 324.04 511.5 324.12 512.5 324.20 513.5 324.26 514.5 324.31 515.5 324.36 516.5 324.39 517.5 324.42 518.5 324.43 519.5 324.44 520.5 324.44 521.5 324.42 522.5 324.40 523.5 324.36 524.5 324.32 525.5 324.27 526.5 324.20 527.5 324.12 528.5 324.04 529.5 323.94 530.5 323.83 531.5 323.72 532.5 323.59 533.5 323.45 534.5 323.30 535.5 323.14 536.5 322.97 537.5 322.78 538.5 322.59 539.5 322.39 540.5 322.18 541.5 321.96 542.5 321.73 543.5 321.49 544.5 321.23 545.5 320.97 546.5 320.70 547.5 320.42 548.5 320.13 549.5 319.83 550.5 319.52 551.5 319.20 552.5 318.88 553.5 318.54 554.5 318.19 555.5 317.84 556.5 317.47 557.5 317.10 558.5 316.72 559.5 316.32 560.5 315.92 561.5 315.51 562.5 315.10 563.5 314.67 564.5 314.23 565.5 313.79 566.5 313.34 567.5 312.88 568.5 312.41 569.5 311.93 570.5 311.45 571.5 310.96 572.5 310.46 573.5 309.96 574.5 309.46 575.5 308.95 576.5 308.44 577.5 307.93 578.5 307.41 579.5 306.90 580.5 306.39 581.5 305.88 582.5 305.37 583.5 304.86 584.5 304.35 585.5 303.85 586.5 303.36 587.5 302.87 588.5 302.39 589.5 301.91 590.5 301.44 591.5 300.98 592.5 300.53 593.5 300.09 594.5 299.66 595.5 299.24 596.5 298.84 597.5 298.45 598.5 298.07 599.5 297.70 600.5 297.35 601.5 297.02 602.5 296.70 603.5 296.40 604.5 296.12 605.5 295.85 606.5 295.61 607.5 295.38 608.5 295.17 609.5 294.98 610.5 294.81 611.5 294.67 612.5 294.54 613.5 294.43 614.5 294.35 615.5 294.29 616.5 294.25 617.5 294.24 618.5 294.25 619.5 294.29 620.5 294.35 621.5 294.43 622.5 294.54 623.5 294.68 624.5 294.85 625.5 295.04 626.5 295.26 627.5 295.51 628.5 295.79 629.5 296.10 630.5 296.44 631.5 296.80 632.5 297.20 633.5 297.63 634.5 298.10 635.5 298.59 636.5 299.12 637.5 299.68 638.5 300.28 639.5 300.90 640.5 301.57 641.5 302.26 642.5 302.98 643.5 303.73 644.5 304.50 645.5 305.31 646.5 306.14 647.5 306.99 648.5 307.86 649.5 308.76 650.5 309.67 651.5 310.60 652.5 311.55 653.5 312.52 654.5 313.50 655.5 314.50 656.5 315.50 657.5 316.53 658.5 317.56 659.5 318.61 660.5 319.68 661.5 320.75 662.5 321.84 663.5 322.94 664.5 324.06 665.5 325.18 666.5 326.32 667.5 327.47 668.5 328.63 669.5 329.80 670.5 330.99 671.5 332.18 672.5 333.39 673.5 334.61 674.5 335.83 675.5 337.07 676.5 338.32 677.5 339.57 678.5 340.84 679.5 342.12 680.5 343.40 681.5 344.70 682.5 346.00 683.5 347.32 684.5 348.64 685.5 349.97 686.5 351.30 687.5 352.65 688.5 354.00 689.5 355.37 690.5 356.73 691.5 358.11 692.5 359.49 693.5 360.88 694.5 362.28 695.5 363.68 696.5 365.09 697.5 366.51 698.5 367.93 699.5 369.36 700.5 370.79 701.5 372.23 702.5 373.67 703.5 375.12 704.5 376.57 705.5 378.03 706.5 379.49 707.5 380.95 708.5 382.42 709.5 383.90 710.5 385.38 711.5 386.86 712.5 388.34 713.5 389.83 714.5 391.32 715.5 392.81 716.5 394.30 717.5 395.80 718.5 397.30 719.5 398.80 720.5 400.30 721.5 401.81 722.5 403.31 723.5 404.82 724.5 406.33 725.5 407.84 726.5 409.35 727.5 410.86 728.5 412.37 729.5 413.88 730.5 415.38 731.5 416.89 732.5 418.40 733.5 419.91 734.5 421.42 735.5 422.93 736.5 424.44 737.5 425.95 738.5 427.45 739.5 428.96 740.5 430.47 741.5 431.98 742.5 433.49 743.5 435.00 744.5 436.50 745.5 438.01 746.5 439.52 747.5 441.03 748.5 442.54 749.5 444.05 750.5 445.56 751.5 447.08 752.5 448.59 753.5 450.10 754.5 451.61 755.5 453.13 756.5 454.64 757.5 456.16 758.5 457.67 759.5 459.19 760.5 460.71 761.5 462.22 762.5 463.74 763.5 465.26 764.5 466.78 765.5 468.31 766.5 469.83 767.5 471.35 768.5 472.88 769.5 474.41 770.5 475.93 771.5 477.46 772.5 478.99 773.5 480.52 774.5 482.06 775.5 483.59 776.5 485.13 777.5 486.66 778.5 488.20 779.5 489.74 780.5 491.28 781.5 492.83 782.5 494.37 783.5 495.92 784.5 497.47 785.5 499.01 786.5 500.57 787.5 502.12 788.5 503.68 789.5 505.23 790.5 506.79 791.5 508.35 792.5 509.92 793.5 511.48 794.5 513.05 795.5 514.62 796.5 516.19 797.5 517.76 798.5 519.34 799.5 520.92 800.5 522.50 801.5 524.08 802.5 525.67 803.5 527.25 804.5 528.84 805.5 530.42 806.5 532.01 807.5 533.59 808.5 535.17 809.5 536.74 810.5 538.32 811.5 539.89 812.5 541.45 813.5 543.01 814.5 544.57 815.5 546.11 816.5 547.65 817.5 549.19 818.5 550.71 819.5 552.22 820.5 553.73 821.5 555.23 822.5 556.71 823.5 558.18 824.5 559.64 825.5 561.09 826.5 562.53 827.5 563.95 828.5 565.36 829.5 566.75 830.5 568.13 831.5 569.49 832.5 570.83 833.5 572.16 834.5 573.46 835.5 574.75 836.5 576.02 837.5 577.27 838.5 578.50 839.5 579.71 840.5 580.90 841.5 582.06 842.5 583.20 843.5 584.32 844.5 585.41 845.5 586.48 846.5 587.53 847.5 588.55 848.5 589.54 849.5 590.52 850.5 591.47 851.5 592.40 852.5 593.31 853.5 594.20 854.5 595.08 855.5 595.94 856.5 596.78 857.5 597.61 858.5 598.42 859.5 599.23 860.5 600.01 861.5 600.79 862.5 601.56 863.5 602.32 864.5 603.07 865.5 603.82 866.5 604.56 867.5 605.29 868.5 606.02 869.5 606.75 870.5 607.47 871.5 608.19 872.5 608.90 873.5 609.60 874.5 610.30 875.5 611.00 876.5 611.68 877.5 612.36 878.5 613.03 879.5 613.70 880.5 614.35 881.5 615.00 882.5 615.64 883.5 616.27 884.5 616.88 885.5 617.49 886.5 618.09 887.5 618.68 888.5 619.25 889.5 619.81 890.5 620.36 891.5 620.90 892.5 621.43 893.5 621.94 894.5 622.43 895.5 622.92 896.5 623.39 897.5 623.84 898.5 624.28 899.5 624.70 900.5 625.10 901.5 625.49 902.5 625.86 903.5 626.22 904.5 626.55 905.5 626.87 906.5 627.17 907.5 627.45 908.5 627.71 909.5 627.96 910.5 628.18 911.5 628.38 912.5 628.56 913.5 628.71 914.5 628.85 915.5 628.96 916.5 629.05 917.5 629.12 918.5 629.17 919.5 629.19 920.5 629.19 921.5 629.16 922.5 629.11 923.5 629.03 924.5 628.92 925.5 628.79 925.9 628.73" stroke="#800080" stroke-width="1.3" fill="none" stroke-linejoin="round"/>
<path d="M170.5 203.57 171.5 203.25 172.5 202.94 173.5 202.63 174.5 202.32 175.5 202.01 176.5 201.70 177.5 201.39 178.5 201.09 179.5 200.78 180.5 200.48 181.5 200.18 182.5 199.88 183.5 199.59 184.5 199.29 185.5 199.00 186.5 198.71 187.5 198.42 188.5 198.13 189.5 197.85 190.5 197.57 191.5 197.29 192.5 197.01 193.5 196.73 194.5 196.46 195.5 196.19 196.5 195.92 197.5 195.66 198.5 195.40 199.5 195.14 200.5 194.88 201.5 194.62 202.5 194.37 203.5 194.12 204.5 193.88 205.5 193.64 206.5 193.40 207.5 193.16 208.5 192.93 209.5 192.70 210.5 192.47 211.5 192.25 212.5 192.03 213.5 191.82 214.5 191.60 215.5 191.40 216.5 191.19 217.5 190.99 218.5 190.79 219.5 190.60 220.5 190.41 221.5 190.23 222.5 190.04 223.5 189.87 224.5 189.69 225.5 189.52 226.5 189.36 227.5 189.20 228.5 189.04 229.5 188.89 230.5 188.75 231.5 188.60 232.5 188.47 233.5 188.33 234.5 188.20 235.5 188.08 236.5 187.96 237.5 187.85 238.5 187.74 239.5 187.64 240.5 187.54 241.5 187.44 242.5 187.36 243.5 187.27 244.5 187.20 245.5 187.12 246.5 187.06 247.5 187.00 248.5 186.94 249.5 186.89 250.5 186.84 251.5 186.81 252.5 186.77 253.5 186.75 254.5 186.72 255.5 186.71 256.5 186.70 257.5 186.70 258.5 186.70 259.5 186.71 260.5 186.72 261.5 186.74 262.5 186.77 263.5 186.81 264.5 186.85 265.5 186.89 266.5 186.95 267.5 187.01 268.5 187.07 269.5 187.15 270.5 187.23 271.5 187.32 272.5 187.41 273.5 187.51 274.5 187.62 275.5 187.74 276.5 187.86 277.5 187.99 278.5 188.13 279.5 188.27 280.5 188.42 281.5 188.58 282.5 188.75 283.5 188.92 284.5 189.10 285.5 189.29 286.5 189.49 287.5 189.70 288.5 189.91 289.5 190.13 290.5 190.35 291.5 190.59 292.5 190.83 293.5 191.07 294.5 191.33 295.5 191.59 296.5 191.86 297.5 192.13 298.5 192.41 299.5 192.70 300.5 193.00 301.5 193.30 302.5 193.60 303.5 193.92 304.5 194.24 305.5 194.56 306.5 194.89 307.5 195.23 308.5 195.58 309.5 195.93 310.5 196.28 311.5 196.64 312.5 197.01 313.5 197.39 314.5 197.76 315.5 198.15 316.5 198.54 317.5 198.93 318.5 199.33 319.5 199.74 320.5 200.15 321.5 200.56 322.5 200.99 323.5 201.41 324.5 201.84 325.5 202.28 326.5 202.72 327.5 203.16 328.5 203.61 329.5 204.07 330.5 204.52 331.5 204.99 332.5 205.45 333.5 205.93 334.5 206.40 335.5 206.88 336.5 207.37 337.5 207.85 338.5 208.35 339.5 208.84 340.5 209.34 341.5 209.85 342.5 210.35 343.5 210.86 344.5 211.38 345.5 211.90 346.5 212.42 347.5 212.94 348.5 213.47 349.5 214.00 350.5 214.54 351.5 215.07 352.5 215.61 353.5 216.16 354.5 216.70 355.5 217.25 356.5 217.80 357.5 218.36 358.5 218.91 359.5 219.47 360.5 220.04 361.5 220.60 362.5 221.17 363.5 221.74 364.5 222.31 365.5 222.88 366.5 223.46 367.5 224.03 368.5 224.61 369.5 225.19 370.5 225.78 371.5 226.36 372.5 226.95 373.5 227.53 374.5 228.12 375.5 228.71 376.5 229.31 377.5 229.90 378.5 230.50 379.5 231.09 380.5 231.69 381.5 232.29 382.5 232.89 383.5 233.49 384.5 234.09 385.5 234.69 386.5 235.29 387.5 235.89 388.5 236.50 389.5 237.10 390.5 237.71 391.5 238.31 392.5 238.92 393.5 239.52 394.5 240.13 395.5 240.73 396.5 241.34 397.5 241.94 398.5 242.55 399.5 243.15 400.5 243.76 401.5 244.36 402.5 244.97 403.5 245.57 404.5 246.18 405.5 246.78 406.5 247.38 407.5 247.98 408.5 248.58 409.5 249.18 410.5 249.78 411.5 250.38 412.5 250.98 413.5 251.57 414.5 252.17 415.5 252.76 416.5 253.35 417.5 253.94 418.5 254.53 419.5 255.12 420.5 255.71 421.5 256.29 422.5 256.88 423.5 257.46 424.5 258.04 425.5 258.61 426.5 259.19 427.5 259.76 428.5 260.33 429.5 260.90 430.5 261.47 431.5 262.03 432.5 262.59 433.5 263.15 434.5 263.71 435.5 264.26 436.5 264.82 437.5 265.36 438.5 265.91 439.5 266.45 440.5 266.99 441.5 267.53 442.5 268.06 443.5 268.60 444.5 269.12 445.5 269.65 446.5 270.17 447.5 270.69 448.5 271.20 449.5 271.71 450.5 272.22 451.5 272.72 452.5 273.22 453.5 273.72 454.5 274.21 455.5 274.70 456.5 275.18 457.5 275.66 458.5 276.14 459.5 276.61 460.5 277.08 461.5 277.54 462.5 278.00 463.5 278.45 464.5 278.90 465.5 279.34 466.5 279.78 467.5 280.22 468.5 280.65 469.5 281.07 470.5 281.49 471.5 281.90 472.5 282.31 473.5 282.71 474.5 283.11 475.5 283.50 476.5 283.88 477.5 284.26 478.5 284.63 479.5 284.99 480.5 285.35 481.5 285.70 482.5 286.05 483.5 286.39 484.5 286.72 485.5 287.04 486.5 287.36 487.5 287.66 488.5 287.96 489.5 288.26 490.5 288.54 491.5 288.82 492.5 289.09 493.5 289.35 494.5 289.60 495.5 289.85 496.5 290.08 497.5 290.31 498.5 290.53 499.5 290.74 500.5 290.94 501.5 291.13 502.5 291.32 503.5 291.49 504.5 291.65 505.5 291.81 506.5 291.95 507.5 292.08 508.5 292.21 509.5 292.32 510.5 292.43 511.5 292.52 512.5 292.60 513.5 292.68 514.5 292.74 515.5 292.79 516.5 292.83 517.5 292.86 518.5 292.88 519.5 292.88 520.5 292.88 521.5 292.86 522.5 292.83 523.5 292.79 524.5 292.74 525.5 292.68 526.5 292.60 527.5 292.52 528.5 292.42 529.5 292.30 530.5 292.18 531.5 292.04 532.5 291.89 533.5 291.73 534.5 291.55 535.5 291.37 536.5 291.17 537.5 290.96 538.5 290.74 539.5 290.51 540.5 290.27 541.5 290.02 542.5 289.75 543.5 289.48 544.5 289.20 545.5 288.90 546.5 288.60 547.5 288.29 548.5 287.97 549.5 287.64 550.5 287.30 551.5 286.95 552.5 286.60 553.5 286.23 554.5 285.86 555.5 285.48 556.5 285.09 557.5 284.69 558.5 284.29 559.5 283.88 560.5 283.46 561.5 283.03 562.5 282.60 563.5 282.16 564.5 281.72 565.5 281.27 566.5 280.81 567.5 280.35 568.5 279.88 569.5 279.41 570.5 278.93 571.5 278.45 572.5 277.96 573.5 277.48 574.5 276.99 575.5 276.49 576.5 276.00 577.5 275.51 578.5 275.02 579.5 274.53 580.5 274.04 581.5 273.55 582.5 273.06 583.5 272.58 584.5 272.10 585.5 271.63 586.5 271.16 587.5 270.69 588.5 270.24 589.5 269.78 590.5 269.34 591.5 268.90 592.5 268.48 593.5 268.06 594.5 267.65 595.5 267.25 596.5 266.86 597.5 266.49 598.5 266.12 599.5 265.77 600.5 265.43 601.5 265.11 602.5 264.80 603.5 264.50 604.5 264.22 605.5 263.96 606.5 263.71 607.5 263.48 608.5 263.27 609.5 263.07 610.5 262.90 611.5 262.74 612.5 262.61 613.5 262.50 614.5 262.40 615.5 262.33 616.5 262.29 617.5 262.26 618.5 262.26 619.5 262.28 620.5 262.33 621.5 262.41 622.5 262.51 623.5 262.63 624.5 262.79 625.5 262.97 626.5 263.18 627.5 263.42 628.5 263.69 629.5 263.99 630.5 264.32 631.5 264.68 632.5 265.07 633.5 265.49 634.5 265.94 635.5 266.42 636.5 266.93 637.5 267.47 638.5 268.04 639.5 268.63 640.5 269.25 641.5 269.90 642.5 270.57 643.5 271.27 644.5 272.00 645.5 272.75 646.5 273.52 647.5 274.32 648.5 275.15 649.5 275.99 650.5 276.86 651.5 277.76 652.5 278.67 653.5 279.61 654.5 280.57 655.5 281.55 656.5 282.55 657.5 283.57 658.5 284.61 659.5 285.67 660.5 286.75 661.5 287.84 662.5 288.96 663.5 290.09 664.5 291.24 665.5 292.41 666.5 293.59 667.5 294.79 668.5 296.01 669.5 297.24 670.5 298.48 671.5 299.74 672.5 301.02 673.5 302.31 674.5 303.61 675.5 304.92 676.5 306.25 677.5 307.59 678.5 308.94 679.5 310.30 680.5 311.67 681.5 313.05 682.5 314.43 683.5 315.82 684.5 317.22 685.5 318.62 686.5 320.02 687.5 321.42 688.5 322.82 689.5 324.22 690.5 325.62 691.5 327.01 692.5 328.40 693.5 329.78 694.5 331.15 695.5 332.51 696.5 333.87 697.5 335.21 698.5 336.54 699.5 337.85 700.5 339.16 701.5 340.45 702.5 341.74 703.5 343.02 704.5 344.30 705.5 345.57 706.5 346.85 707.5 348.12 708.5 349.40 709.5 350.69 710.5 351.98 711.5 353.27 712.5 354.58 713.5 355.90 714.5 357.23 715.5 358.58 716.5 359.94 717.5 361.32 718.5 362.73 719.5 364.15 720.5 365.59 721.5 367.05 722.5 368.53 723.5 370.03 724.5 371.55 725.5 373.08 726.5 374.63 727.5 376.20 728.5 377.78 729.5 379.37 730.5 380.98 731.5 382.60 732.5 384.24 733.5 385.88 734.5 387.54 735.5 389.21 736.5 390.89 737.5 392.58 738.5 394.28 739.5 395.98 740.5 397.69 741.5 399.41 742.5 401.14 743.5 402.87 744.5 404.61 745.5 406.35 746.5 408.10 747.5 409.85 748.5 411.60 749.5 413.36 750.5 415.11 751.5 416.87 752.5 418.63 753.5 420.39 754.5 422.14 755.5 423.90 756.5 425.65 757.5 427.40 758.5 429.15 759.5 430.89 760.5 432.63 761.5 434.36 762.5 436.09 763.5 437.81 764.5 439.52 765.5 441.22 766.5 442.92 767.5 444.61 768.5 446.29 769.5 447.96 770.5 449.61 771.5 451.26 772.5 452.90 773.5 454.52 774.5 456.12 775.5 457.72 776.5 459.30 777.5 460.86 778.5 462.41 779.5 463.95 780.5 465.46 781.5 466.96 782.5 468.44 783.5 469.90 784.5 471.34 785.5 472.77 786.5 474.17 787.5 475.55 788.5 476.90 789.5 478.24 790.5 479.56 791.5 480.86 792.5 482.15 793.5 483.42 794.5 484.68 795.5 485.93 796.5 487.18 797.5 488.42 798.5 489.65 799.5 490.89 800.5 492.13 801.5 493.37 802.5 494.61 803.5 495.86 804.5 497.12 805.5 498.39 806.5 499.68 807.5 500.98 808.5 502.29 809.5 503.62 810.5 504.97 811.5 506.32 812.5 507.69 813.5 509.07 814.5 510.46 815.5 511.86 816.5 513.27 817.5 514.68 818.5 516.10 819.5 517.52 820.5 518.95 821.5 520.38 822.5 521.81 823.5 523.25 824.5 524.68 825.5 526.12 826.5 527.55 827.5 528.98 828.5 530.40 829.5 531.82 830.5 533.24 831.5 534.64 832.5 536.04 833.5 537.43 834.5 538.81 835.5 540.18 836.5 541.54 837.5 542.89 838.5 544.22 839.5 545.54 840.5 546.84 841.5 548.12 842.5 549.39 843.5 550.64 844.5 551.87 845.5 553.08 846.5 554.26 847.5 555.43 848.5 556.57 849.5 557.70 850.5 558.80 851.5 559.88 852.5 560.94 853.5 561.98 854.5 563.01 855.5 564.01 856.5 564.99 857.5 565.95 858.5 566.89 859.5 567.82 860.5 568.72 861.5 569.61 862.5 570.48 863.5 571.33 864.5 572.16 865.5 572.98 866.5 573.77 867.5 574.55 868.5 575.31 869.5 576.06 870.5 576.79 871.5 577.50 872.5 578.19 873.5 578.87 874.5 579.53 875.5 580.18 876.5 580.81 877.5 581.42 878.5 582.02 879.5 582.61 880.5 583.18 881.5 583.73 882.5 584.27 883.5 584.80 884.5 585.31 885.5 585.81 886.5 586.30 887.5 586.77 888.5 587.22 889.5 587.67 890.5 588.10 891.5 588.52 892.5 588.92 893.5 589.32 894.5 589.70 895.5 590.07 896.5 590.43 897.5 590.77 898.5 591.11 899.5 591.43 900.5 591.74 901.5 592.05 902.5 592.34 903.5 592.62 904.5 592.89 905.5 593.15 906.5 593.40 907.5 593.64 908.5 593.87 909.5 594.10 910.5 594.31 911.5 594.51 912.5 594.71 913.5 594.90 914.5 595.08 915.5 595.25 916.5 595.41 917.5 595.57 918.5 595.71 919.5 595.86 920.5 595.99 921.5 596.12 922.5 596.24 923.5 596.35 924.5 596.46 925.5 596.56 925.9 596.60" stroke="#0000ff" stroke-width="1.3" fill="none" stroke-linejoin="round"/>
<path d="M170.5 176.97 171.5 176.69 172.5 176.40 173.5 176.12 174.5 175.83 175.5 175.55 176.5 175.26 177.5 174.98 178.5 174.69 179.5 174.41 180.5 174.12 181.5 173.84 182.5 173.56 183.5 173.27 184.5 172.99 185.5 172.71 186.5 172.43 187.5 172.15 188.5 171.87 189.5 171.60 190.5 171.32 191.5 171.04 192.5 170.77 193.5 170.50 194.5 170.23 195.5 169.96 196.5 169.69 197.5 169.42 198.5 169.16 199.5 168.90 200.5 168.64 201.5 168.38 202.5 168.12 203.5 167.87 204.5 167.62 205.5 167.37 206.5 167.12 207.5 166.88 208.5 166.64 209.5 166.40 210.5 166.16 211.5 165.93 212.5 165.70 213.5 165.48 214.5 165.25 215.5 165.03 216.5 164.81 217.5 164.60 218.5 164.39 219.5 164.18 220.5 163.98 221.5 163.78 222.5 163.59 223.5 163.39 224.5 163.21 225.5 163.02 226.5 162.84 227.5 162.67 228.5 162.50 229.5 162.33 230.5 162.17 231.5 162.01 232.5 161.86 233.5 161.71 234.5 161.57 235.5 161.43 236.5 161.30 237.5 161.17 238.5 161.05 239.5 160.93 240.5 160.82 241.5 160.71 242.5 160.61 243.5 160.51 244.5 160.42 245.5 160.34 246.5 160.26 247.5 160.19 248.5 160.12 249.5 160.06 250.5 160.00 251.5 159.95 252.5 159.91 253.5 159.88 254.5 159.85 255.5 159.82 256.5 159.81 257.5 159.80 258.5 159.80 259.5 159.80 260.5 159.81 261.5 159.83 262.5 159.86 263.5 159.89 264.5 159.93 265.5 159.98 266.5 160.03 267.5 160.09 268.5 160.16 269.5 160.24 270.5 160.33 271.5 160.42 272.5 160.52 273.5 160.63 274.5 160.75 275.5 160.87 276.5 161.01 277.5 161.15 278.5 161.30 279.5 161.46 280.5 161.63 281.5 161.81 282.5 161.99 283.5 162.19 284.5 162.39 285.5 162.60 286.5 162.82 287.5 163.05 288.5 163.29 289.5 163.53 290.5 163.78 291.5 164.05 292.5 164.31 293.5 164.59 294.5 164.87 295.5 165.16 296.5 165.46 297.5 165.77 298.5 166.08 299.5 166.40 300.5 166.72 301.5 167.05 302.5 167.39 303.5 167.74 304.5 168.09 305.5 168.44 306.5 168.81 307.5 169.18 308.5 169.55 309.5 169.93 310.5 170.32 311.5 170.71 312.5 171.10 313.5 171.50 314.5 171.91 315.5 172.32 316.5 172.74 317.5 173.16 318.5 173.58 319.5 174.01 320.5 174.45 321.5 174.88 322.5 175.33 323.5 175.77 324.5 176.22 325.5 176.67 326.5 177.13 327.5 177.59 328.5 178.06 329.5 178.52 330.5 178.99 331.5 179.46 332.5 179.94 333.5 180.42 334.5 180.90 335.5 181.38 336.5 181.87 337.5 182.35 338.5 182.84 339.5 183.33 340.5 183.83 341.5 184.32 342.5 184.82 343.5 185.32 344.5 185.82 345.5 186.32 346.5 186.82 347.5 187.32 348.5 187.83 349.5 188.33 350.5 188.83 351.5 189.34 352.5 189.85 353.5 190.35 354.5 190.86 355.5 191.36 356.5 191.87 357.5 192.38 358.5 192.88 359.5 193.39 360.5 193.90 361.5 194.41 362.5 194.91 363.5 195.42 364.5 195.93 365.5 196.44 366.5 196.95 367.5 197.47 368.5 197.98 369.5 198.49 370.5 199.01 371.5 199.52 372.5 200.04 373.5 200.56 374.5 201.08 375.5 201.60 376.5 202.12 377.5 202.65 378.5 203.17 379.5 203.70 380.5 204.23 381.5 204.76 382.5 205.29 383.5 205.83 384.5 206.36 385.5 206.90 386.5 207.44 387.5 207.98 388.5 208.53 389.5 209.07 390.5 209.62 391.5 210.17 392.5 210.73 393.5 211.28 394.5 211.84 395.5 212.40 396.5 212.97 397.5 213.53 398.5 214.10 399.5 214.67 400.5 215.25 401.5 215.83 402.5 216.41 403.5 216.99 404.5 217.57 405.5 218.16 406.5 218.75 407.5 219.35 408.5 219.94 409.5 220.53 410.5 221.13 411.5 221.73 412.5 222.33 413.5 222.93 414.5 223.54 415.5 224.14 416.5 224.74 417.5 225.35 418.5 225.95 419.5 226.56 420.5 227.17 421.5 227.77 422.5 228.38 423.5 228.98 424.5 229.59 425.5 230.20 426.5 230.80 427.5 231.40 428.5 232.01 429.5 232.61 430.5 233.21 431.5 233.81 432.5 234.41 433.5 235.01 434.5 235.60 435.5 236.19 436.5 236.79 437.5 237.37 438.5 237.96 439.5 238.55 440.5 239.13 441.5 239.71 442.5 240.28 443.5 240.86 444.5 241.43 445.5 242.00 446.5 242.56 447.5 243.12 448.5 243.68 449.5 244.23 450.5 244.78 451.5 245.33 452.5 245.87 453.5 246.41 454.5 246.94 455.5 247.47 456.5 247.99 457.5 248.51 458.5 249.02 459.5 249.53 460.5 250.03 461.5 250.53 462.5 251.02 463.5 251.51 464.5 251.99 465.5 252.46 466.5 252.93 467.5 253.40 468.5 253.85 469.5 254.30 470.5 254.74 471.5 255.18 472.5 255.61 473.5 256.03 474.5 256.45 475.5 256.85 476.5 257.25 477.5 257.65 478.5 258.03 479.5 258.41 480.5 258.78 481.5 259.14 482.5 259.49 483.5 259.84 484.5 260.17 485.5 260.50 486.5 260.82 487.5 261.12 488.5 261.42 489.5 261.71 490.5 262.00 491.5 262.27 492.5 262.53 493.5 262.78 494.5 263.02 495.5 263.26 496.5 263.48 497.5 263.69 498.5 263.89 499.5 264.08 500.5 264.26 501.5 264.43 502.5 264.59 503.5 264.73 504.5 264.87 505.5 264.99 506.5 265.10 507.5 265.20 508.5 265.29 509.5 265.37 510.5 265.43 511.5 265.49 512.5 265.53 513.5 265.55 514.5 265.57 515.5 265.57 516.5 265.56 517.5 265.53 518.5 265.49 519.5 265.44 520.5 265.38 521.5 265.30 522.5 265.21 523.5 265.10 524.5 264.98 525.5 264.85 526.5 264.70 527.5 264.54 528.5 264.36 529.5 264.16 530.5 263.96 531.5 263.74 532.5 263.50 533.5 263.25 534.5 262.98 535.5 262.70 536.5 262.41 537.5 262.11 538.5 261.79 539.5 261.46 540.5 261.12 541.5 260.76 542.5 260.40 543.5 260.02 544.5 259.63 545.5 259.23 546.5 258.81 547.5 258.39 548.5 257.96 549.5 257.51 550.5 257.06 551.5 256.60 552.5 256.13 553.5 255.65 554.5 255.15 555.5 254.66 556.5 254.15 557.5 253.63 558.5 253.11 559.5 252.58 560.5 252.04 561.5 251.49 562.5 250.94 563.5 250.38 564.5 249.82 565.5 249.25 566.5 248.67 567.5 248.09 568.5 247.50 569.5 246.90 570.5 246.31 571.5 245.71 572.5 245.10 573.5 244.50 574.5 243.89 575.5 243.28 576.5 242.67 577.5 242.07 578.5 241.46 579.5 240.86 580.5 240.26 581.5 239.66 582.5 239.07 583.5 238.48 584.5 237.90 585.5 237.33 586.5 236.76 587.5 236.20 588.5 235.65 589.5 235.11 590.5 234.57 591.5 234.05 592.5 233.54 593.5 233.04 594.5 232.56 595.5 232.08 596.5 231.62 597.5 231.18 598.5 230.75 599.5 230.34 600.5 229.94 601.5 229.57 602.5 229.21 603.5 228.86 604.5 228.54 605.5 228.23 606.5 227.95 607.5 227.68 608.5 227.43 609.5 227.21 610.5 227.00 611.5 226.81 612.5 226.65 613.5 226.51 614.5 226.38 615.5 226.28 616.5 226.21 617.5 226.15 618.5 226.12 619.5 226.11 620.5 226.13 621.5 226.17 622.5 226.23 623.5 226.32 624.5 226.43 625.5 226.57 626.5 226.73 627.5 226.93 628.5 227.14 629.5 227.39 630.5 227.66 631.5 227.95 632.5 228.28 633.5 228.63 634.5 229.02 635.5 229.43 636.5 229.87 637.5 230.34 638.5 230.84 639.5 231.36 640.5 231.92 641.5 232.51 642.5 233.13 643.5 233.79 644.5 234.47 645.5 235.19 646.5 235.94 647.5 236.72 648.5 237.53 649.5 238.38 650.5 239.26 651.5 240.17 652.5 241.12 653.5 242.11 654.5 243.13 655.5 244.18 656.5 245.27 657.5 246.38 658.5 247.53 659.5 248.71 660.5 249.91 661.5 251.14 662.5 252.39 663.5 253.67 664.5 254.96 665.5 256.27 666.5 257.61 667.5 258.95 668.5 260.32 669.5 261.69 670.5 263.08 671.5 264.48 672.5 265.88 673.5 267.30 674.5 268.71 675.5 270.14 676.5 271.56 677.5 272.99 678.5 274.41 679.5 275.83 680.5 277.25 681.5 278.67 682.5 280.08 683.5 281.49 684.5 282.90 685.5 284.30 686.5 285.70 687.5 287.10 688.5 288.50 689.5 289.89 690.5 291.29 691.5 292.68 692.5 294.07 693.5 295.46 694.5 296.85 695.5 298.24 696.5 299.62 697.5 301.01 698.5 302.40 699.5 303.78 700.5 305.17 701.5 306.56 702.5 307.95 703.5 309.34 704.5 310.73 705.5 312.12 706.5 313.52 707.5 314.91 708.5 316.31 709.5 317.71 710.5 319.12 711.5 320.52 712.5 321.93 713.5 323.34 714.5 324.76 715.5 326.18 716.5 327.60 717.5 329.03 718.5 330.46 719.5 331.89 720.5 333.33 721.5 334.78 722.5 336.22 723.5 337.68 724.5 339.14 725.5 340.60 726.5 342.08 727.5 343.55 728.5 345.04 729.5 346.52 730.5 348.02 731.5 349.51 732.5 351.02 733.5 352.52 734.5 354.03 735.5 355.55 736.5 357.07 737.5 358.59 738.5 360.12 739.5 361.65 740.5 363.19 741.5 364.73 742.5 366.27 743.5 367.81 744.5 369.36 745.5 370.91 746.5 372.47 747.5 374.02 748.5 375.58 749.5 377.14 750.5 378.70 751.5 380.27 752.5 381.83 753.5 383.40 754.5 384.97 755.5 386.54 756.5 388.11 757.5 389.69 758.5 391.26 759.5 392.83 760.5 394.41 761.5 395.98 762.5 397.56 763.5 399.14 764.5 400.71 765.5 402.29 766.5 403.86 767.5 405.44 768.5 407.01 769.5 408.58 770.5 410.16 771.5 411.73 772.5 413.30 773.5 414.86 774.5 416.43 775.5 418.00 776.5 419.56 777.5 421.12 778.5 422.68 779.5 424.24 780.5 425.79 781.5 427.34 782.5 428.89 783.5 430.44 784.5 431.99 785.5 433.53 786.5 435.07 787.5 436.61 788.5 438.15 789.5 439.68 790.5 441.22 791.5 442.75 792.5 444.27 793.5 445.80 794.5 447.32 795.5 448.84 796.5 450.36 797.5 451.88 798.5 453.39 799.5 454.90 800.5 456.41 801.5 457.91 802.5 459.42 803.5 460.92 804.5 462.42 805.5 463.91 806.5 465.40 807.5 466.89 808.5 468.38 809.5 469.86 810.5 471.35 811.5 472.83 812.5 474.30 813.5 475.78 814.5 477.25 815.5 478.71 816.5 480.18 817.5 481.64 818.5 483.10 819.5 484.56 820.5 486.01 821.5 487.46 822.5 488.91 823.5 490.35 824.5 491.79 825.5 493.23 826.5 494.67 827.5 496.10 828.5 497.53 829.5 498.95 830.5 500.38 831.5 501.80 832.5 503.21 833.5 504.63 834.5 506.03 835.5 507.44 836.5 508.83 837.5 510.22 838.5 511.60 839.5 512.98 840.5 514.34 841.5 515.70 842.5 517.05 843.5 518.39 844.5 519.71 845.5 521.03 846.5 522.33 847.5 523.62 848.5 524.89 849.5 526.15 850.5 527.40 851.5 528.63 852.5 529.84 853.5 531.04 854.5 532.22 855.5 533.39 856.5 534.53 857.5 535.65 858.5 536.76 859.5 537.84 860.5 538.91 861.5 539.95 862.5 540.97 863.5 541.96 864.5 542.94 865.5 543.89 866.5 544.82 867.5 545.73 868.5 546.62 869.5 547.49 870.5 548.34 871.5 549.17 872.5 549.98 873.5 550.77 874.5 551.54 875.5 552.29 876.5 553.03 877.5 553.74 878.5 554.44 879.5 555.12 880.5 555.79 881.5 556.43 882.5 557.06 883.5 557.67 884.5 558.27 885.5 558.85 886.5 559.41 887.5 559.96 888.5 560.50 889.5 561.02 890.5 561.52 891.5 562.01 892.5 562.49 893.5 562.95 894.5 563.40 895.5 563.84 896.5 564.26 897.5 564.67 898.5 565.07 899.5 565.45 900.5 565.83 901.5 566.19 902.5 566.54 903.5 566.89 904.5 567.22 905.5 567.54 906.5 567.85 907.5 568.15 908.5 568.44 909.5 568.72 910.5 568.99 911.5 569.26 912.5 569.51 913.5 569.76 914.5 570.00 915.5 570.23 916.5 570.46 917.5 570.68 918.5 570.89 919.5 571.10 920.5 571.29 921.5 571.49 922.5 571.68 923.5 571.86 924.5 572.04 925.5 572.21 925.9 572.28" stroke="#00ffff" stroke-width="1.3" fill="none" stroke-linejoin="round"/>
<path d="M170.5 144.39 171.5 144.15 172.5 143.91 173.5 143.66 174.5 143.42 175.5 143.17 176.5 142.92 177.5 142.68 178.5 142.43 179.5 142.18 180.5 141.93 181.5 141.68 182.5 141.44 183.5 141.19 184.5 140.94 185.5 140.69 186.5 140.44 187.5 140.19 188.5 139.94 189.5 139.69 190.5 139.45 191.5 139.20 192.5 138.95 193.5 138.71 194.5 138.46 195.5 138.22 196.5 137.97 197.5 137.73 198.5 137.49 199.5 137.25 200.5 137.01 201.5 136.77 202.5 136.54 203.5 136.30 204.5 136.07 205.5 135.84 206.5 135.61 207.5 135.38 208.5 135.16 209.5 134.93 210.5 134.71 211.5 134.49 212.5 134.28 213.5 134.06 214.5 133.85 215.5 133.64 216.5 133.43 217.5 133.23 218.5 133.03 219.5 132.83 220.5 132.63 221.5 132.44 222.5 132.25 223.5 132.06 224.5 131.88 225.5 131.70 226.5 131.52 227.5 131.35 228.5 131.18 229.5 131.01 230.5 130.85 231.5 130.69 232.5 130.54 233.5 130.38 234.5 130.24 235.5 130.10 236.5 129.96 237.5 129.82 238.5 129.69 239.5 129.57 240.5 129.45 241.5 129.33 242.5 129.22 243.5 129.11 244.5 129.01 245.5 128.92 246.5 128.82 247.5 128.74 248.5 128.66 249.5 128.58 250.5 128.51 251.5 128.44 252.5 128.38 253.5 128.33 254.5 128.28 255.5 128.24 256.5 128.20 257.5 128.17 258.5 128.15 259.5 128.13 260.5 128.12 261.5 128.11 262.5 128.11 263.5 128.12 264.5 128.13 265.5 128.15 266.5 128.18 267.5 128.21 268.5 128.25 269.5 128.30 270.5 128.35 271.5 128.41 272.5 128.48 273.5 128.56 274.5 128.64 275.5 128.73 276.5 128.83 277.5 128.93 278.5 129.05 279.5 129.17 280.5 129.30 281.5 129.43 282.5 129.58 283.5 129.73 284.5 129.89 285.5 130.06 286.5 130.24 287.5 130.42 288.5 130.62 289.5 130.82 290.5 131.03 291.5 131.25 292.5 131.48 293.5 131.72 294.5 131.96 295.5 132.22 296.5 132.48 297.5 132.76 298.5 133.04 299.5 133.33 300.5 133.62 301.5 133.93 302.5 134.24 303.5 134.57 304.5 134.89 305.5 135.23 306.5 135.58 307.5 135.93 308.5 136.29 309.5 136.65 310.5 137.02 311.5 137.40 312.5 137.79 313.5 138.18 314.5 138.58 315.5 138.99 316.5 139.40 317.5 139.82 318.5 140.25 319.5 140.68 320.5 141.12 321.5 141.56 322.5 142.01 323.5 142.46 324.5 142.92 325.5 143.39 326.5 143.86 327.5 144.34 328.5 144.82 329.5 145.30 330.5 145.79 331.5 146.29 332.5 146.79 333.5 147.29 334.5 147.80 335.5 148.31 336.5 148.83 337.5 149.35 338.5 149.88 339.5 150.40 340.5 150.94 341.5 151.47 342.5 152.01 343.5 152.56 344.5 153.10 345.5 153.65 346.5 154.20 347.5 154.76 348.5 155.32 349.5 155.88 350.5 156.44 351.5 157.00 352.5 157.57 353.5 158.14 354.5 158.71 355.5 159.29 356.5 159.86 357.5 160.44 358.5 161.02 359.5 161.60 360.5 162.19 361.5 162.77 362.5 163.35 363.5 163.94 364.5 164.53 365.5 165.12 366.5 165.70 367.5 166.29 368.5 166.88 369.5 167.47 370.5 168.06 371.5 168.66 372.5 169.25 373.5 169.84 374.5 170.43 375.5 171.02 376.5 171.61 377.5 172.20 378.5 172.79 379.5 173.38 380.5 173.96 381.5 174.55 382.5 175.14 383.5 175.72 384.5 176.31 385.5 176.89 386.5 177.48 387.5 178.06 388.5 178.64 389.5 179.23 390.5 179.81 391.5 180.39 392.5 180.97 393.5 181.55 394.5 182.12 395.5 182.70 396.5 183.28 397.5 183.85 398.5 184.43 399.5 185.00 400.5 185.57 401.5 186.15 402.5 186.72 403.5 187.29 404.5 187.86 405.5 188.43 406.5 188.99 407.5 189.56 408.5 190.13 409.5 190.69 410.5 191.25 411.5 191.82 412.5 192.38 413.5 192.94 414.5 193.50 415.5 194.06 416.5 194.62 417.5 195.18 418.5 195.73 419.5 196.29 420.5 196.84 421.5 197.39 422.5 197.95 423.5 198.50 424.5 199.05 425.5 199.60 426.5 200.14 427.5 200.69 428.5 201.23 429.5 201.78 430.5 202.32 431.5 202.86 432.5 203.40 433.5 203.94 434.5 204.48 435.5 205.02 436.5 205.56 437.5 206.09 438.5 206.62 439.5 207.16 440.5 207.69 441.5 208.22 442.5 208.75 443.5 209.27 444.5 209.80 445.5 210.32 446.5 210.85 447.5 211.37 448.5 211.89 449.5 212.41 450.5 212.93 451.5 213.44 452.5 213.96 453.5 214.47 454.5 214.98 455.5 215.50 456.5 216.01 457.5 216.51 458.5 217.02 459.5 217.52 460.5 218.03 461.5 218.53 462.5 219.02 463.5 219.52 464.5 220.01 465.5 220.49 466.5 220.97 467.5 221.45 468.5 221.92 469.5 222.39 470.5 222.85 471.5 223.30 472.5 223.75 473.5 224.19 474.5 224.63 475.5 225.05 476.5 225.47 477.5 225.89 478.5 226.29 479.5 226.69 480.5 227.07 481.5 227.45 482.5 227.82 483.5 228.17 484.5 228.52 485.5 228.86 486.5 229.18 487.5 229.50 488.5 229.80 489.5 230.09 490.5 230.37 491.5 230.63 492.5 230.89 493.5 231.13 494.5 231.35 495.5 231.57 496.5 231.76 497.5 231.95 498.5 232.12 499.5 232.27 500.5 232.41 501.5 232.53 502.5 232.64 503.5 232.73 504.5 232.81 505.5 232.87 506.5 232.91 507.5 232.95 508.5 232.96 509.5 232.97 510.5 232.95 511.5 232.93 512.5 232.89 513.5 232.83 514.5 232.76 515.5 232.68 516.5 232.59 517.5 232.48 518.5 232.35 519.5 232.22 520.5 232.07 521.5 231.91 522.5 231.73 523.5 231.55 524.5 231.35 525.5 231.13 526.5 230.91 527.5 230.67 528.5 230.42 529.5 230.16 530.5 229.89 531.5 229.60 532.5 229.31 533.5 229.00 534.5 228.68 535.5 228.35 536.5 228.01 537.5 227.66 538.5 227.30 539.5 226.92 540.5 226.54 541.5 226.14 542.5 225.74 543.5 225.33 544.5 224.90 545.5 224.47 546.5 224.02 547.5 223.57 548.5 223.11 549.5 222.63 550.5 222.15 551.5 221.66 552.5 221.16 553.5 220.65 554.5 220.13 555.5 219.61 556.5 219.07 557.5 218.53 558.5 217.98 559.5 217.42 560.5 216.86 561.5 216.28 562.5 215.70 563.5 215.11 564.5 214.52 565.5 213.92 566.5 213.32 567.5 212.71 568.5 212.10 569.5 211.48 570.5 210.86 571.5 210.24 572.5 209.62 573.5 209.00 574.5 208.37 575.5 207.75 576.5 207.13 577.5 206.50 578.5 205.88 579.5 205.27 580.5 204.65 581.5 204.04 582.5 203.43 583.5 202.82 584.5 202.22 585.5 201.63 586.5 201.04 587.5 200.46 588.5 199.88 589.5 199.32 590.5 198.76 591.5 198.20 592.5 197.66 593.5 197.13 594.5 196.61 595.5 196.10 596.5 195.60 597.5 195.11 598.5 194.63 599.5 194.17 600.5 193.72 601.5 193.28 602.5 192.86 603.5 192.46 604.5 192.07 605.5 191.70 606.5 191.34 607.5 191.00 608.5 190.69 609.5 190.39 610.5 190.11 611.5 189.86 612.5 189.63 613.5 189.42 614.5 189.23 615.5 189.07 616.5 188.93 617.5 188.82 618.5 188.73 619.5 188.67 620.5 188.64 621.5 188.64 622.5 188.67 623.5 188.73 624.5 188.82 625.5 188.94 626.5 189.09 627.5 189.27 628.5 189.49 629.5 189.75 630.5 190.04 631.5 190.36 632.5 190.72 633.5 191.12 634.5 191.56 635.5 192.04 636.5 192.55 637.5 193.11 638.5 193.70 639.5 194.34 640.5 195.02 641.5 195.73 642.5 196.48 643.5 197.27 644.5 198.09 645.5 198.94 646.5 199.82 647.5 200.73 648.5 201.67 649.5 202.64 650.5 203.63 651.5 204.64 652.5 205.67 653.5 206.73 654.5 207.80 655.5 208.90 656.5 210.00 657.5 211.13 658.5 212.26 659.5 213.41 660.5 214.58 661.5 215.75 662.5 216.94 663.5 218.14 664.5 219.35 665.5 220.58 666.5 221.81 667.5 223.06 668.5 224.32 669.5 225.58 670.5 226.86 671.5 228.15 672.5 229.45 673.5 230.76 674.5 232.07 675.5 233.40 676.5 234.73 677.5 236.07 678.5 237.42 679.5 238.78 680.5 240.15 681.5 241.52 682.5 242.90 683.5 244.28 684.5 245.68 685.5 247.07 686.5 248.48 687.5 249.89 688.5 251.30 689.5 252.72 690.5 254.15 691.5 255.57 692.5 257.01 693.5 258.44 694.5 259.88 695.5 261.33 696.5 262.77 697.5 264.22 698.5 265.67 699.5 267.13 700.5 268.58 701.5 270.04 702.5 271.50 703.5 272.96 704.5 274.41 705.5 275.88 706.5 277.34 707.5 278.80 708.5 280.26 709.5 281.72 710.5 283.18 711.5 284.64 712.5 286.10 713.5 287.56 714.5 289.03 715.5 290.49 716.5 291.95 717.5 293.42 718.5 294.88 719.5 296.35 720.5 297.82 721.5 299.29 722.5 300.76 723.5 302.23 724.5 303.70 725.5 305.17 726.5 306.65 727.5 308.12 728.5 309.60 729.5 311.08 730.5 312.56 731.5 314.04 732.5 315.52 733.5 317.01 734.5 318.49 735.5 319.98 736.5 321.47 737.5 322.97 738.5 324.46 739.5 325.96 740.5 327.46 741.5 328.96 742.5 330.47 743.5 331.97 744.5 333.48 745.5 334.99 746.5 336.51 747.5 338.03 748.5 339.55 749.5 341.07 750.5 342.60 751.5 344.12 752.5 345.66 753.5 347.19 754.5 348.73 755.5 350.27 756.5 351.82 757.5 353.36 758.5 354.91 759.5 356.47 760.5 358.03 761.5 359.59 762.5 361.16 763.5 362.73 764.5 364.30 765.5 365.88 766.5 367.46 767.5 369.04 768.5 370.63 769.5 372.23 770.5 373.83 771.5 375.43 772.5 377.03 773.5 378.65 774.5 380.26 775.5 381.88 776.5 383.51 777.5 385.14 778.5 386.77 779.5 388.41 780.5 390.05 781.5 391.70 782.5 393.36 783.5 395.02 784.5 396.68 785.5 398.34 786.5 400.01 787.5 401.68 788.5 403.36 789.5 405.03 790.5 406.71 791.5 408.39 792.5 410.06 793.5 411.74 794.5 413.42 795.5 415.10 796.5 416.77 797.5 418.45 798.5 420.12 799.5 421.79 800.5 423.46 801.5 425.12 802.5 426.78 803.5 428.44 804.5 430.09 805.5 431.73 806.5 433.37 807.5 435.01 808.5 436.64 809.5 438.26 810.5 439.87 811.5 441.48 812.5 443.08 813.5 444.67 814.5 446.25 815.5 447.82 816.5 449.38 817.5 450.94 818.5 452.48 819.5 454.01 820.5 455.53 821.5 457.03 822.5 458.53 823.5 460.01 824.5 461.48 825.5 462.94 826.5 464.38 827.5 465.80 828.5 467.22 829.5 468.61 830.5 469.99 831.5 471.36 832.5 472.71 833.5 474.04 834.5 475.35 835.5 476.65 836.5 477.92 837.5 479.18 838.5 480.42 839.5 481.64 840.5 482.84 841.5 484.02 842.5 485.18 843.5 486.32 844.5 487.44 845.5 488.53 846.5 489.62 847.5 490.68 848.5 491.73 849.5 492.77 850.5 493.79 851.5 494.80 852.5 495.80 853.5 496.79 854.5 497.77 855.5 498.75 856.5 499.72 857.5 500.68 858.5 501.64 859.5 502.60 860.5 503.55 861.5 504.50 862.5 505.44 863.5 506.38 864.5 507.32 865.5 508.24 866.5 509.16 867.5 510.07 868.5 510.98 869.5 511.87 870.5 512.76 871.5 513.63 872.5 514.50 873.5 515.35 874.5 516.19 875.5 517.02 876.5 517.84 877.5 518.64 878.5 519.44 879.5 520.21 880.5 520.98 881.5 521.73 882.5 522.47 883.5 523.19 884.5 523.90 885.5 524.60 886.5 525.28 887.5 525.95 888.5 526.60 889.5 527.24 890.5 527.86 891.5 528.47 892.5 529.07 893.5 529.65 894.5 530.21 895.5 530.76 896.5 531.30 897.5 531.82 898.5 532.32 899.5 532.81 900.5 533.28 901.5 533.74 902.5 534.18 903.5 534.60 904.5 535.01 905.5 535.40 906.5 535.78 907.5 536.14 908.5 536.48 909.5 536.81 910.5 537.12 911.5 537.41 912.5 537.69 913.5 537.95 914.5 538.19 915.5 538.41 916.5 538.62 917.5 538.81 918.5 538.98 919.5 539.13 920.5 539.27 921.5 539.38 922.5 539.48 923.5 539.56 924.5 539.62 925.5 539.67 925.9 539.68" stroke="#00ff00" stroke-width="1.3" fill="none" stroke-linejoin="round"/>
<path d="M170.5 118.15 171.5 117.82 172.5 117.49 173.5 117.16 174.5 116.84 175.5 116.51 176.5 116.19 177.5 115.87 178.5 115.56 179.5 115.24 180.5 114.93 181.5 114.62 182.5 114.31 183.5 114.01 184.5 113.70 185.5 113.40 186.5 113.10 187.5 112.81 188.5 112.52 189.5 112.23 190.5 111.94 191.5 111.66 192.5 111.37 193.5 111.10 194.5 110.82 195.5 110.55 196.5 110.28 197.5 110.01 198.5 109.75 199.5 109.49 200.5 109.23 201.5 108.98 202.5 108.73 203.5 108.48 204.5 108.23 205.5 107.99 206.5 107.76 207.5 107.52 208.5 107.30 209.5 107.07 210.5 106.85 211.5 106.63 212.5 106.41 213.5 106.20 214.5 106.00 215.5 105.79 216.5 105.60 217.5 105.40 218.5 105.21 219.5 105.02 220.5 104.84 221.5 104.66 222.5 104.49 223.5 104.32 224.5 104.15 225.5 103.99 226.5 103.84 227.5 103.69 228.5 103.54 229.5 103.40 230.5 103.26 231.5 103.12 232.5 103.00 233.5 102.87 234.5 102.75 235.5 102.64 236.5 102.53 237.5 102.43 238.5 102.33 239.5 102.23 240.5 102.15 241.5 102.06 242.5 101.98 243.5 101.91 244.5 101.84 245.5 101.78 246.5 101.72 247.5 101.67 248.5 101.63 249.5 101.59 250.5 101.55 251.5 101.52 252.5 101.50 253.5 101.48 254.5 101.47 255.5 101.47 256.5 101.47 257.5 101.47 258.5 101.48 259.5 101.50 260.5 101.53 261.5 101.56 262.5 101.59 263.5 101.64 264.5 101.69 265.5 101.74 266.5 101.80 267.5 101.87 268.5 101.95 269.5 102.03 270.5 102.12 271.5 102.21 272.5 102.31 273.5 102.42 274.5 102.53 275.5 102.66 276.5 102.78 277.5 102.92 278.5 103.06 279.5 103.21 280.5 103.37 281.5 103.53 282.5 103.70 283.5 103.88 284.5 104.06 285.5 104.26 286.5 104.46 287.5 104.66 288.5 104.88 289.5 105.10 290.5 105.33 291.5 105.57 292.5 105.81 293.5 106.06 294.5 106.32 295.5 106.59 296.5 106.87 297.5 107.15 298.5 107.44 299.5 107.74 300.5 108.04 301.5 108.35 302.5 108.67 303.5 108.99 304.5 109.32 305.5 109.66 306.5 110.01 307.5 110.36 308.5 110.71 309.5 111.08 310.5 111.45 311.5 111.82 312.5 112.20 313.5 112.59 314.5 112.98 315.5 113.38 316.5 113.78 317.5 114.19 318.5 114.61 319.5 115.03 320.5 115.45 321.5 115.88 322.5 116.31 323.5 116.75 324.5 117.20 325.5 117.65 326.5 118.10 327.5 118.56 328.5 119.02 329.5 119.49 330.5 119.96 331.5 120.43 332.5 120.91 333.5 121.39 334.5 121.88 335.5 122.37 336.5 122.86 337.5 123.35 338.5 123.85 339.5 124.36 340.5 124.86 341.5 125.37 342.5 125.88 343.5 126.40 344.5 126.92 345.5 127.44 346.5 127.96 347.5 128.48 348.5 129.01 349.5 129.54 350.5 130.07 351.5 130.61 352.5 131.14 353.5 131.68 354.5 132.22 355.5 132.76 356.5 133.31 357.5 133.85 358.5 134.40 359.5 134.94 360.5 135.49 361.5 136.04 362.5 136.59 363.5 137.14 364.5 137.69 365.5 138.25 366.5 138.80 367.5 139.35 368.5 139.91 369.5 140.46 370.5 141.02 371.5 141.57 372.5 142.12 373.5 142.68 374.5 143.23 375.5 143.79 376.5 144.34 377.5 144.89 378.5 145.45 379.5 146.00 380.5 146.55 381.5 147.10 382.5 147.65 383.5 148.20 384.5 148.74 385.5 149.29 386.5 149.83 387.5 150.38 388.5 150.92 389.5 151.46 390.5 151.99 391.5 152.53 392.5 153.06 393.5 153.59 394.5 154.12 395.5 154.65 396.5 155.18 397.5 155.70 398.5 156.22 399.5 156.74 400.5 157.25 401.5 157.76 402.5 158.27 403.5 158.78 404.5 159.28 405.5 159.79 406.5 160.29 407.5 160.79 408.5 161.30 409.5 161.80 410.5 162.30 411.5 162.80 412.5 163.30 413.5 163.80 414.5 164.31 415.5 164.81 416.5 165.32 417.5 165.83 418.5 166.34 419.5 166.85 420.5 167.37 421.5 167.89 422.5 168.41 423.5 168.94 424.5 169.47 425.5 170.00 426.5 170.54 427.5 171.09 428.5 171.63 429.5 172.19 430.5 172.75 431.5 173.32 432.5 173.89 433.5 174.46 434.5 175.04 435.5 175.63 436.5 176.22 437.5 176.81 438.5 177.40 439.5 177.99 440.5 178.59 441.5 179.19 442.5 179.78 443.5 180.38 444.5 180.98 445.5 181.57 446.5 182.17 447.5 182.76 448.5 183.35 449.5 183.94 450.5 184.53 451.5 185.11 452.5 185.68 453.5 186.25 454.5 186.82 455.5 187.38 456.5 187.94 457.5 188.49 458.5 189.03 459.5 189.56 460.5 190.09 461.5 190.61 462.5 191.12 463.5 191.63 464.5 192.13 465.5 192.62 466.5 193.10 467.5 193.57 468.5 194.04 469.5 194.50 470.5 194.95 471.5 195.40 472.5 195.83 473.5 196.26 474.5 196.68 475.5 197.09 476.5 197.50 477.5 197.89 478.5 198.28 479.5 198.66 480.5 199.03 481.5 199.40 482.5 199.75 483.5 200.10 484.5 200.43 485.5 200.76 486.5 201.08 487.5 201.39 488.5 201.69 489.5 201.98 490.5 202.26 491.5 202.53 492.5 202.79 493.5 203.03 494.5 203.27 495.5 203.49 496.5 203.71 497.5 203.91 498.5 204.10 499.5 204.27 500.5 204.43 501.5 204.58 502.5 204.72 503.5 204.84 504.5 204.95 505.5 205.05 506.5 205.13 507.5 205.20 508.5 205.25 509.5 205.29 510.5 205.31 511.5 205.32 512.5 205.31 513.5 205.28 514.5 205.24 515.5 205.18 516.5 205.11 517.5 205.02 518.5 204.91 519.5 204.78 520.5 204.64 521.5 204.47 522.5 204.29 523.5 204.10 524.5 203.88 525.5 203.64 526.5 203.39 527.5 203.11 528.5 202.82 529.5 202.51 530.5 202.19 531.5 201.84 532.5 201.48 533.5 201.11 534.5 200.72 535.5 200.31 536.5 199.89 537.5 199.45 538.5 199.01 539.5 198.54 540.5 198.07 541.5 197.58 542.5 197.08 543.5 196.56 544.5 196.04 545.5 195.51 546.5 194.96 547.5 194.40 548.5 193.84 549.5 193.26 550.5 192.68 551.5 192.09 552.5 191.48 553.5 190.88 554.5 190.26 555.5 189.64 556.5 189.01 557.5 188.37 558.5 187.73 559.5 187.08 560.5 186.43 561.5 185.78 562.5 185.12 563.5 184.45 564.5 183.79 565.5 183.12 566.5 182.44 567.5 181.77 568.5 181.09 569.5 180.42 570.5 179.74 571.5 179.06 572.5 178.38 573.5 177.71 574.5 177.03 575.5 176.35 576.5 175.68 577.5 175.01 578.5 174.34 579.5 173.67 580.5 173.01 581.5 172.35 582.5 171.70 583.5 171.05 584.5 170.40 585.5 169.76 586.5 169.13 587.5 168.50 588.5 167.88 589.5 167.27 590.5 166.66 591.5 166.06 592.5 165.47 593.5 164.89 594.5 164.32 595.5 163.75 596.5 163.20 597.5 162.66 598.5 162.13 599.5 161.60 600.5 161.10 601.5 160.60 602.5 160.12 603.5 159.65 604.5 159.20 605.5 158.76 606.5 158.35 607.5 157.96 608.5 157.59 609.5 157.24 610.5 156.92 611.5 156.63 612.5 156.37 613.5 156.13 614.5 155.93 615.5 155.75 616.5 155.61 617.5 155.51 618.5 155.44 619.5 155.42 620.5 155.43 621.5 155.48 622.5 155.57 623.5 155.70 624.5 155.87 625.5 156.07 626.5 156.31 627.5 156.59 628.5 156.90 629.5 157.25 630.5 157.63 631.5 158.05 632.5 158.49 633.5 158.97 634.5 159.49 635.5 160.03 636.5 160.60 637.5 161.20 638.5 161.84 639.5 162.50 640.5 163.18 641.5 163.90 642.5 164.64 643.5 165.41 644.5 166.20 645.5 167.02 646.5 167.86 647.5 168.72 648.5 169.61 649.5 170.51 650.5 171.44 651.5 172.39 652.5 173.36 653.5 174.35 654.5 175.36 655.5 176.39 656.5 177.43 657.5 178.49 658.5 179.57 659.5 180.66 660.5 181.76 661.5 182.89 662.5 184.02 663.5 185.17 664.5 186.33 665.5 187.50 666.5 188.68 667.5 189.88 668.5 191.09 669.5 192.31 670.5 193.54 671.5 194.79 672.5 196.04 673.5 197.31 674.5 198.58 675.5 199.87 676.5 201.17 677.5 202.47 678.5 203.79 679.5 205.11 680.5 206.45 681.5 207.79 682.5 209.14 683.5 210.50 684.5 211.87 685.5 213.25 686.5 214.63 687.5 216.02 688.5 217.42 689.5 218.83 690.5 220.24 691.5 221.66 692.5 223.09 693.5 224.52 694.5 225.96 695.5 227.40 696.5 228.85 697.5 230.30 698.5 231.76 699.5 233.23 700.5 234.69 701.5 236.17 702.5 237.64 703.5 239.12 704.5 240.61 705.5 242.09 706.5 243.58 707.5 245.08 708.5 246.57 709.5 248.07 710.5 249.57 711.5 251.07 712.5 252.58 713.5 254.08 714.5 255.59 715.5 257.10 716.5 258.62 717.5 260.13 718.5 261.65 719.5 263.16 720.5 264.68 721.5 266.20 722.5 267.73 723.5 269.25 724.5 270.78 725.5 272.31 726.5 273.84 727.5 275.37 728.5 276.90 729.5 278.43 730.5 279.97 731.5 281.51 732.5 283.05 733.5 284.59 734.5 286.13 735.5 287.67 736.5 289.22 737.5 290.76 738.5 292.31 739.5 293.86 740.5 295.41 741.5 296.96 742.5 298.51 743.5 300.07 744.5 301.62 745.5 303.18 746.5 304.74 747.5 306.29 748.5 307.85 749.5 309.41 750.5 310.98 751.5 312.54 752.5 314.10 753.5 315.67 754.5 317.23 755.5 318.80 756.5 320.36 757.5 321.93 758.5 323.50 759.5 325.07 760.5 326.64 761.5 328.21 762.5 329.78 763.5 331.35 764.5 332.93 765.5 334.50 766.5 336.07 767.5 337.65 768.5 339.22 769.5 340.80 770.5 342.37 771.5 343.95 772.5 345.53 773.5 347.11 774.5 348.68 775.5 350.26 776.5 351.84 777.5 353.42 778.5 355.00 779.5 356.58 780.5 358.16 781.5 359.74 782.5 361.32 783.5 362.90 784.5 364.48 785.5 366.06 786.5 367.64 787.5 369.22 788.5 370.80 789.5 372.38 790.5 373.96 791.5 375.54 792.5 377.12 793.5 378.70 794.5 380.28 795.5 381.86 796.5 383.44 797.5 385.02 798.5 386.59 799.5 388.17 800.5 389.75 801.5 391.33 802.5 392.91 803.5 394.48 804.5 396.06 805.5 397.64 806.5 399.21 807.5 400.79 808.5 402.36 809.5 403.94 810.5 405.51 811.5 407.08 812.5 408.65 813.5 410.22 814.5 411.79 815.5 413.35 816.5 414.91 817.5 416.47 818.5 418.02 819.5 419.57 820.5 421.12 821.5 422.66 822.5 424.20 823.5 425.73 824.5 427.26 825.5 428.78 826.5 430.30 827.5 431.81 828.5 433.32 829.5 434.82 830.5 436.31 831.5 437.79 832.5 439.27 833.5 440.75 834.5 442.21 835.5 443.67 836.5 445.11 837.5 446.55 838.5 447.98 839.5 449.41 840.5 450.82 841.5 452.22 842.5 453.61 843.5 455.00 844.5 456.37 845.5 457.73 846.5 459.08 847.5 460.42 848.5 461.75 849.5 463.07 850.5 464.37 851.5 465.67 852.5 466.95 853.5 468.21 854.5 469.47 855.5 470.71 856.5 471.94 857.5 473.15 858.5 474.35 859.5 475.53 860.5 476.70 861.5 477.86 862.5 479.00 863.5 480.12 864.5 481.23 865.5 482.33 866.5 483.40 867.5 484.46 868.5 485.51 869.5 486.53 870.5 487.54 871.5 488.53 872.5 489.51 873.5 490.46 874.5 491.40 875.5 492.31 876.5 493.21 877.5 494.09 878.5 494.95 879.5 495.79 880.5 496.61 881.5 497.41 882.5 498.20 883.5 498.96 884.5 499.70 885.5 500.43 886.5 501.14 887.5 501.83 888.5 502.51 889.5 503.16 890.5 503.80 891.5 504.43 892.5 505.04 893.5 505.64 894.5 506.22 895.5 506.78 896.5 507.33 897.5 507.87 898.5 508.40 899.5 508.91 900.5 509.41 901.5 509.89 902.5 510.37 903.5 510.83 904.5 511.28 905.5 511.72 906.5 512.15 907.5 512.57 908.5 512.98 909.5 513.39 910.5 513.78 911.5 514.16 912.5 514.53 913.5 514.90 914.5 515.26 915.5 515.61 916.5 515.96 917.5 516.29 918.5 516.63 919.5 516.95 920.5 517.27 921.5 517.59 922.5 517.90 923.5 518.21 924.5 518.51 925.3 518.75" stroke="#ff00ff" stroke-width="1.3" fill="none" stroke-linejoin="round"/>
<path d="M170.5 80.84 171.5 80.54 172.5 80.24 173.5 79.94 174.5 79.63 175.5 79.34 176.5 79.04 177.5 78.74 178.5 78.44 179.5 78.14 180.5 77.85 181.5 77.56 182.5 77.26 183.5 76.97 184.5 76.68 185.5 76.39 186.5 76.11 187.5 75.82 188.5 75.54 189.5 75.25 190.5 74.97 191.5 74.69 192.5 74.42 193.5 74.14 194.5 73.87 195.5 73.60 196.5 73.33 197.5 73.06 198.5 72.80 199.5 72.54 200.5 72.28 201.5 72.02 202.5 71.77 203.5 71.51 204.5 71.26 205.5 71.02 206.5 70.77 207.5 70.53 208.5 70.30 209.5 70.06 210.5 69.83 211.5 69.60 212.5 69.38 213.5 69.15 214.5 68.93 215.5 68.72 216.5 68.51 217.5 68.30 218.5 68.10 219.5 67.89 220.5 67.70 221.5 67.50 222.5 67.32 223.5 67.13 224.5 66.95 225.5 66.77 226.5 66.60 227.5 66.43 228.5 66.27 229.5 66.11 230.5 65.95 231.5 65.80 232.5 65.65 233.5 65.51 234.5 65.37 235.5 65.24 236.5 65.11 237.5 64.99 238.5 64.87 239.5 64.76 240.5 64.65 241.5 64.55 242.5 64.46 243.5 64.36 244.5 64.28 245.5 64.20 246.5 64.12 247.5 64.05 248.5 63.99 249.5 63.93 250.5 63.88 251.5 63.83 252.5 63.79 253.5 63.76 254.5 63.73 255.5 63.71 256.5 63.69 257.5 63.68 258.5 63.68 259.5 63.68 260.5 63.69 261.5 63.71 262.5 63.73 263.5 63.76 264.5 63.79 265.5 63.84 266.5 63.89 267.5 63.94 268.5 64.01 269.5 64.08 270.5 64.16 271.5 64.24 272.5 64.33 273.5 64.43 274.5 64.54 275.5 64.66 276.5 64.78 277.5 64.91 278.5 65.05 279.5 65.19 280.5 65.34 281.5 65.51 282.5 65.68 283.5 65.85 284.5 66.04 285.5 66.23 286.5 66.43 287.5 66.64 288.5 66.86 289.5 67.09 290.5 67.32 291.5 67.57 292.5 67.82 293.5 68.08 294.5 68.35 295.5 68.62 296.5 68.91 297.5 69.20 298.5 69.50 299.5 69.81 300.5 70.12 301.5 70.44 302.5 70.77 303.5 71.11 304.5 71.45 305.5 71.80 306.5 72.16 307.5 72.52 308.5 72.89 309.5 73.27 310.5 73.65 311.5 74.04 312.5 74.44 313.5 74.84 314.5 75.25 315.5 75.67 316.5 76.09 317.5 76.52 318.5 76.95 319.5 77.39 320.5 77.83 321.5 78.28 322.5 78.74 323.5 79.20 324.5 79.66 325.5 80.13 326.5 80.61 327.5 81.09 328.5 81.57 329.5 82.06 330.5 82.56 331.5 83.06 332.5 83.56 333.5 84.07 334.5 84.58 335.5 85.10 336.5 85.62 337.5 86.14 338.5 86.67 339.5 87.20 340.5 87.74 341.5 88.28 342.5 88.82 343.5 89.36 344.5 89.91 345.5 90.47 346.5 91.02 347.5 91.58 348.5 92.14 349.5 92.71 350.5 93.27 351.5 93.84 352.5 94.42 353.5 94.99 354.5 95.57 355.5 96.15 356.5 96.73 357.5 97.31 358.5 97.90 359.5 98.48 360.5 99.07 361.5 99.66 362.5 100.26 363.5 100.85 364.5 101.44 365.5 102.04 366.5 102.64 367.5 103.24 368.5 103.84 369.5 104.44 370.5 105.04 371.5 105.64 372.5 106.24 373.5 106.85 374.5 107.45 375.5 108.05 376.5 108.66 377.5 109.26 378.5 109.87 379.5 110.47 380.5 111.08 381.5 111.68 382.5 112.29 383.5 112.89 384.5 113.49 385.5 114.09 386.5 114.70 387.5 115.30 388.5 115.90 389.5 116.49 390.5 117.09 391.5 117.69 392.5 118.28 393.5 118.88 394.5 119.47 395.5 120.06 396.5 120.65 397.5 121.24 398.5 121.83 399.5 122.42 400.5 123.00 401.5 123.59 402.5 124.17 403.5 124.75 404.5 125.33 405.5 125.91 406.5 126.48 407.5 127.06 408.5 127.63 409.5 128.21 410.5 128.78 411.5 129.34 412.5 129.91 413.5 130.48 414.5 131.04 415.5 131.60 416.5 132.16 417.5 132.72 418.5 133.28 419.5 133.83 420.5 134.38 421.5 134.94 422.5 135.48 423.5 136.03 424.5 136.58 425.5 137.12 426.5 137.66 427.5 138.20 428.5 138.74 429.5 139.27 430.5 139.81 431.5 140.34 432.5 140.86 433.5 141.39 434.5 141.92 435.5 142.44 436.5 142.96 437.5 143.48 438.5 143.99 439.5 144.50 440.5 145.01 441.5 145.52 442.5 146.03 443.5 146.53 444.5 147.03 445.5 147.53 446.5 148.03 447.5 148.52 448.5 149.01 449.5 149.50 450.5 149.99 451.5 150.47 452.5 150.95 453.5 151.43 454.5 151.90 455.5 152.37 456.5 152.84 457.5 153.31 458.5 153.78 459.5 154.24 460.5 154.69 461.5 155.15 462.5 155.60 463.5 156.05 464.5 156.50 465.5 156.94 466.5 157.37 467.5 157.81 468.5 158.23 469.5 158.65 470.5 159.07 471.5 159.48 472.5 159.89 473.5 160.29 474.5 160.68 475.5 161.06 476.5 161.44 477.5 161.81 478.5 162.18 479.5 162.53 480.5 162.88 481.5 163.22 482.5 163.55 483.5 163.87 484.5 164.19 485.5 164.49 486.5 164.78 487.5 165.07 488.5 165.34 489.5 165.61 490.5 165.86 491.5 166.10 492.5 166.33 493.5 166.55 494.5 166.75 495.5 166.95 496.5 167.13 497.5 167.30 498.5 167.46 499.5 167.60 500.5 167.73 501.5 167.85 502.5 167.95 503.5 168.04 504.5 168.11 505.5 168.17 506.5 168.22 507.5 168.24 508.5 168.26 509.5 168.26 510.5 168.24 511.5 168.20 512.5 168.15 513.5 168.08 514.5 167.99 515.5 167.89 516.5 167.77 517.5 167.63 518.5 167.48 519.5 167.31 520.5 167.12 521.5 166.91 522.5 166.69 523.5 166.46 524.5 166.21 525.5 165.94 526.5 165.66 527.5 165.37 528.5 165.06 529.5 164.74 530.5 164.40 531.5 164.05 532.5 163.69 533.5 163.31 534.5 162.92 535.5 162.52 536.5 162.11 537.5 161.69 538.5 161.25 539.5 160.80 540.5 160.35 541.5 159.88 542.5 159.40 543.5 158.91 544.5 158.41 545.5 157.90 546.5 157.39 547.5 156.86 548.5 156.33 549.5 155.78 550.5 155.23 551.5 154.67 552.5 154.10 553.5 153.53 554.5 152.95 555.5 152.36 556.5 151.77 557.5 151.16 558.5 150.56 559.5 149.94 560.5 149.33 561.5 148.70 562.5 148.07 563.5 147.44 564.5 146.80 565.5 146.16 566.5 145.52 567.5 144.87 568.5 144.22 569.5 143.56 570.5 142.91 571.5 142.25 572.5 141.58 573.5 140.92 574.5 140.25 575.5 139.59 576.5 138.92 577.5 138.25 578.5 137.58 579.5 136.91 580.5 136.24 581.5 135.57 582.5 134.90 583.5 134.24 584.5 133.57 585.5 132.90 586.5 132.24 587.5 131.58 588.5 130.92 589.5 130.26 590.5 129.61 591.5 128.96 592.5 128.32 593.5 127.69 594.5 127.07 595.5 126.45 596.5 125.85 597.5 125.26 598.5 124.69 599.5 124.13 600.5 123.59 601.5 123.06 602.5 122.56 603.5 122.07 604.5 121.61 605.5 121.16 606.5 120.75 607.5 120.35 608.5 119.99 609.5 119.65 610.5 119.34 611.5 119.06 612.5 118.81 613.5 118.59 614.5 118.41 615.5 118.26 616.5 118.15 617.5 118.08 618.5 118.04 619.5 118.05 620.5 118.09 621.5 118.18 622.5 118.31 623.5 118.48 624.5 118.68 625.5 118.93 626.5 119.21 627.5 119.52 628.5 119.88 629.5 120.26 630.5 120.68 631.5 121.14 632.5 121.62 633.5 122.14 634.5 122.69 635.5 123.26 636.5 123.87 637.5 124.50 638.5 125.16 639.5 125.84 640.5 126.56 641.5 127.29 642.5 128.05 643.5 128.83 644.5 129.63 645.5 130.45 646.5 131.30 647.5 132.16 648.5 133.04 649.5 133.94 650.5 134.85 651.5 135.79 652.5 136.73 653.5 137.70 654.5 138.67 655.5 139.67 656.5 140.68 657.5 141.70 658.5 142.74 659.5 143.79 660.5 144.86 661.5 145.94 662.5 147.03 663.5 148.14 664.5 149.26 665.5 150.40 666.5 151.55 667.5 152.71 668.5 153.88 669.5 155.07 670.5 156.27 671.5 157.48 672.5 158.70 673.5 159.93 674.5 161.18 675.5 162.43 676.5 163.70 677.5 164.98 678.5 166.27 679.5 167.57 680.5 168.87 681.5 170.19 682.5 171.52 683.5 172.86 684.5 174.21 685.5 175.56 686.5 176.93 687.5 178.30 688.5 179.69 689.5 181.08 690.5 182.48 691.5 183.89 692.5 185.30 693.5 186.72 694.5 188.15 695.5 189.59 696.5 191.03 697.5 192.48 698.5 193.94 699.5 195.40 700.5 196.87 701.5 198.35 702.5 199.83 703.5 201.31 704.5 202.80 705.5 204.30 706.5 205.80 707.5 207.31 708.5 208.82 709.5 210.33 710.5 211.85 711.5 213.37 712.5 214.89 713.5 216.42 714.5 217.96 715.5 219.49 716.5 221.03 717.5 222.57 718.5 224.11 719.5 225.66 720.5 227.20 721.5 228.75 722.5 230.30 723.5 231.85 724.5 233.40 725.5 234.96 726.5 236.51 727.5 238.07 728.5 239.62 729.5 241.18 730.5 242.73 731.5 244.29 732.5 245.84 733.5 247.39 734.5 248.95 735.5 250.50 736.5 252.06 737.5 253.61 738.5 255.17 739.5 256.72 740.5 258.28 741.5 259.83 742.5 261.39 743.5 262.94 744.5 264.50 745.5 266.06 746.5 267.61 747.5 269.17 748.5 270.73 749.5 272.29 750.5 273.85 751.5 275.41 752.5 276.97 753.5 278.53 754.5 280.10 755.5 281.66 756.5 283.23 757.5 284.79 758.5 286.36 759.5 287.93 760.5 289.50 761.5 291.07 762.5 292.64 763.5 294.21 764.5 295.79 765.5 297.36 766.5 298.94 767.5 300.52 768.5 302.10 769.5 303.68 770.5 305.27 771.5 306.85 772.5 308.44 773.5 310.03 774.5 311.62 775.5 313.21 776.5 314.81 777.5 316.40 778.5 318.00 779.5 319.60 780.5 321.21 781.5 322.81 782.5 324.42 783.5 326.03 784.5 327.64 785.5 329.26 786.5 330.87 787.5 332.49 788.5 334.11 789.5 335.74 790.5 337.36 791.5 338.99 792.5 340.62 793.5 342.26 794.5 343.89 795.5 345.53 796.5 347.17 797.5 348.81 798.5 350.45 799.5 352.09 800.5 353.74 801.5 355.38 802.5 357.02 803.5 358.66 804.5 360.31 805.5 361.95 806.5 363.59 807.5 365.23 808.5 366.87 809.5 368.51 810.5 370.15 811.5 371.79 812.5 373.42 813.5 375.06 814.5 376.69 815.5 378.31 816.5 379.94 817.5 381.56 818.5 383.18 819.5 384.80 820.5 386.41 821.5 388.02 822.5 389.63 823.5 391.23 824.5 392.82 825.5 394.42 826.5 396.01 827.5 397.59 828.5 399.17 829.5 400.74 830.5 402.31 831.5 403.87 832.5 405.43 833.5 406.98 834.5 408.52 835.5 410.06 836.5 411.59 837.5 413.11 838.5 414.63 839.5 416.14 840.5 417.64 841.5 419.13 842.5 420.62 843.5 422.10 844.5 423.57 845.5 425.03 846.5 426.48 847.5 427.93 848.5 429.36 849.5 430.79 850.5 432.20 851.5 433.61 852.5 435.01 853.5 436.39 854.5 437.77 855.5 439.13 856.5 440.49 857.5 441.83 858.5 443.16 859.5 444.48 860.5 445.79 861.5 447.09 862.5 448.38 863.5 449.65 864.5 450.91 865.5 452.16 866.5 453.39 867.5 454.62 868.5 455.83 869.5 457.02 870.5 458.20 871.5 459.37 872.5 460.52 873.5 461.66 874.5 462.79 875.5 463.90 876.5 465.00 877.5 466.08 878.5 467.14 879.5 468.19 880.5 469.22 881.5 470.24 882.5 471.24 883.5 472.23 884.5 473.20 885.5 474.15 886.5 475.08 887.5 476.00 888.5 476.90 889.5 477.78 890.5 478.65 891.5 479.49 892.5 480.32 893.5 481.13 894.5 481.92 895.5 482.69 896.5 483.45 897.5 484.18 898.5 484.89 899.5 485.59 900.5 486.26 901.5 486.92 902.5 487.55 903.5 488.16 904.5 488.76 905.5 489.33 906.5 489.88 907.5 490.41 908.5 490.91 909.5 491.40 910.5 491.86 911.5 492.30 912.5 492.72 913.5 493.12 914.5 493.49 915.5 493.84 916.5 494.17 917.5 494.47 918.5 494.75 919.5 495.01 920.5 495.24 921.5 495.44 922.5 495.63 923.5 495.79 924.5 495.92 925.3 496.01" stroke="#ff8000" stroke-width="1.3" fill="none" stroke-linejoin="round"/>
<path d="M170.5 54.67 171.5 54.32 172.5 53.97 173.5 53.62 174.5 53.27 175.5 52.92 176.5 52.58 177.5 52.24 178.5 51.90 179.5 51.57 180.5 51.23 181.5 50.90 182.5 50.58 183.5 50.25 184.5 49.93 185.5 49.62 186.5 49.30 187.5 48.99 188.5 48.68 189.5 48.37 190.5 48.07 191.5 47.77 192.5 47.48 193.5 47.18 194.5 46.90 195.5 46.61 196.5 46.33 197.5 46.05 198.5 45.77 199.5 45.50 200.5 45.23 201.5 44.97 202.5 44.71 203.5 44.45 204.5 44.20 205.5 43.95 206.5 43.70 207.5 43.46 208.5 43.22 209.5 42.98 210.5 42.75 211.5 42.53 212.5 42.31 213.5 42.09 214.5 41.87 215.5 41.66 216.5 41.46 217.5 41.26 218.5 41.06 219.5 40.87 220.5 40.68 221.5 40.50 222.5 40.32 223.5 40.14 224.5 39.97 225.5 39.81 226.5 39.65 227.5 39.49 228.5 39.34 229.5 39.19 230.5 39.05 231.5 38.91 232.5 38.78 233.5 38.66 234.5 38.53 235.5 38.42 236.5 38.31 237.5 38.20 238.5 38.10 239.5 38.00 240.5 37.91 241.5 37.82 242.5 37.74 243.5 37.67 244.5 37.60 245.5 37.53 246.5 37.47 247.5 37.42 248.5 37.37 249.5 37.33 250.5 37.30 251.5 37.26 252.5 37.24 253.5 37.22 254.5 37.21 255.5 37.20 256.5 37.20 257.5 37.20 258.5 37.21 259.5 37.23 260.5 37.25 261.5 37.28 262.5 37.31 263.5 37.35 264.5 37.40 265.5 37.45 266.5 37.51 267.5 37.58 268.5 37.65 269.5 37.73 270.5 37.82 271.5 37.91 272.5 38.01 273.5 38.11 274.5 38.22 275.5 38.34 276.5 38.47 277.5 38.60 278.5 38.74 279.5 38.88 280.5 39.03 281.5 39.19 282.5 39.36 283.5 39.53 284.5 39.71 285.5 39.90 286.5 40.09 287.5 40.30 288.5 40.50 289.5 40.72 290.5 40.94 291.5 41.18 292.5 41.41 293.5 41.66 294.5 41.91 295.5 42.17 296.5 42.44 297.5 42.72 298.5 43.00 299.5 43.29 300.5 43.59 301.5 43.90 302.5 44.21 303.5 44.53 304.5 44.86 305.5 45.19 306.5 45.54 307.5 45.89 308.5 46.24 309.5 46.61 310.5 46.98 311.5 47.35 312.5 47.74 313.5 48.13 314.5 48.52 315.5 48.93 316.5 49.34 317.5 49.75 318.5 50.17 319.5 50.60 320.5 51.03 321.5 51.47 322.5 51.91 323.5 52.36 324.5 52.82 325.5 53.28 326.5 53.74 327.5 54.22 328.5 54.69 329.5 55.17 330.5 55.66 331.5 56.15 332.5 56.65 333.5 57.15 334.5 57.65 335.5 58.16 336.5 58.67 337.5 59.19 338.5 59.71 339.5 60.24 340.5 60.77 341.5 61.31 342.5 61.84 343.5 62.39 344.5 62.93 345.5 63.48 346.5 64.03 347.5 64.59 348.5 65.15 349.5 65.71 350.5 66.28 351.5 66.85 352.5 67.42 353.5 68.00 354.5 68.57 355.5 69.15 356.5 69.74 357.5 70.32 358.5 70.91 359.5 71.50 360.5 72.09 361.5 72.69 362.5 73.28 363.5 73.88 364.5 74.48 365.5 75.09 366.5 75.69 367.5 76.30 368.5 76.90 369.5 77.51 370.5 78.12 371.5 78.73 372.5 79.34 373.5 79.96 374.5 80.57 375.5 81.19 376.5 81.80 377.5 82.42 378.5 83.04 379.5 83.66 380.5 84.27 381.5 84.89 382.5 85.51 383.5 86.13 384.5 86.75 385.5 87.37 386.5 87.99 387.5 88.61 388.5 89.23 389.5 89.84 390.5 90.46 391.5 91.08 392.5 91.70 393.5 92.31 394.5 92.93 395.5 93.54 396.5 94.16 397.5 94.77 398.5 95.38 399.5 95.99 400.5 96.60 401.5 97.20 402.5 97.81 403.5 98.41 404.5 99.01 405.5 99.61 406.5 100.21 407.5 100.81 408.5 101.40 409.5 102.00 410.5 102.58 411.5 103.17 412.5 103.76 413.5 104.34 414.5 104.92 415.5 105.50 416.5 106.07 417.5 106.64 418.5 107.21 419.5 107.78 420.5 108.34 421.5 108.91 422.5 109.46 423.5 110.02 424.5 110.57 425.5 111.12 426.5 111.67 427.5 112.21 428.5 112.75 429.5 113.29 430.5 113.83 431.5 114.36 432.5 114.89 433.5 115.41 434.5 115.93 435.5 116.45 436.5 116.97 437.5 117.48 438.5 117.99 439.5 118.50 440.5 119.00 441.5 119.50 442.5 119.99 443.5 120.48 444.5 120.97 445.5 121.46 446.5 121.94 447.5 122.42 448.5 122.89 449.5 123.36 450.5 123.83 451.5 124.29 452.5 124.75 453.5 125.20 454.5 125.65 455.5 126.10 456.5 126.54 457.5 126.98 458.5 127.42 459.5 127.85 460.5 128.28 461.5 128.70 462.5 129.12 463.5 129.53 464.5 129.94 465.5 130.35 466.5 130.75 467.5 131.15 468.5 131.54 469.5 131.93 470.5 132.31 471.5 132.69 472.5 133.07 473.5 133.44 474.5 133.81 475.5 134.17 476.5 134.52 477.5 134.88 478.5 135.22 479.5 135.56 480.5 135.90 481.5 136.23 482.5 136.54 483.5 136.86 484.5 137.16 485.5 137.45 486.5 137.74 487.5 138.01 488.5 138.27 489.5 138.52 490.5 138.76 491.5 138.99 492.5 139.20 493.5 139.40 494.5 139.59 495.5 139.76 496.5 139.91 497.5 140.06 498.5 140.18 499.5 140.29 500.5 140.38 501.5 140.45 502.5 140.50 503.5 140.54 504.5 140.56 505.5 140.56 506.5 140.55 507.5 140.52 508.5 140.47 509.5 140.41 510.5 140.32 511.5 140.23 512.5 140.11 513.5 139.98 514.5 139.83 515.5 139.67 516.5 139.49 517.5 139.29 518.5 139.08 519.5 138.86 520.5 138.61 521.5 138.35 522.5 138.08 523.5 137.79 524.5 137.48 525.5 137.16 526.5 136.83 527.5 136.48 528.5 136.11 529.5 135.73 530.5 135.33 531.5 134.92 532.5 134.50 533.5 134.06 534.5 133.61 535.5 133.15 536.5 132.67 537.5 132.18 538.5 131.68 539.5 131.17 540.5 130.64 541.5 130.11 542.5 129.56 543.5 129.00 544.5 128.43 545.5 127.85 546.5 127.26 547.5 126.66 548.5 126.06 549.5 125.44 550.5 124.81 551.5 124.18 552.5 123.53 553.5 122.88 554.5 122.22 555.5 121.56 556.5 120.88 557.5 120.20 558.5 119.52 559.5 118.82 560.5 118.12 561.5 117.42 562.5 116.71 563.5 115.99 564.5 115.27 565.5 114.55 566.5 113.82 567.5 113.09 568.5 112.35 569.5 111.61 570.5 110.87 571.5 110.12 572.5 109.37 573.5 108.62 574.5 107.87 575.5 107.11 576.5 106.36 577.5 105.60 578.5 104.85 579.5 104.09 580.5 103.34 581.5 102.59 582.5 101.84 583.5 101.10 584.5 100.36 585.5 99.63 586.5 98.91 587.5 98.19 588.5 97.49 589.5 96.80 590.5 96.11 591.5 95.44 592.5 94.78 593.5 94.14 594.5 93.51 595.5 92.90 596.5 92.30 597.5 91.73 598.5 91.17 599.5 90.63 600.5 90.11 601.5 89.61 602.5 89.14 603.5 88.68 604.5 88.25 605.5 87.84 606.5 87.46 607.5 87.10 608.5 86.77 609.5 86.46 610.5 86.17 611.5 85.92 612.5 85.68 613.5 85.48 614.5 85.30 615.5 85.16 616.5 85.04 617.5 84.95 618.5 84.89 619.5 84.86 620.5 84.86 621.5 84.89 622.5 84.95 623.5 85.05 624.5 85.17 625.5 85.33 626.5 85.53 627.5 85.76 628.5 86.02 629.5 86.32 630.5 86.65 631.5 87.02 632.5 87.42 633.5 87.86 634.5 88.33 635.5 88.84 636.5 89.38 637.5 89.95 638.5 90.55 639.5 91.18 640.5 91.84 641.5 92.54 642.5 93.26 643.5 94.01 644.5 94.79 645.5 95.60 646.5 96.43 647.5 97.29 648.5 98.18 649.5 99.09 650.5 100.03 651.5 100.99 652.5 101.97 653.5 102.98 654.5 104.01 655.5 105.06 656.5 106.14 657.5 107.23 658.5 108.35 659.5 109.48 660.5 110.63 661.5 111.80 662.5 112.98 663.5 114.18 664.5 115.39 665.5 116.62 666.5 117.86 667.5 119.11 668.5 120.37 669.5 121.65 670.5 122.93 671.5 124.22 672.5 125.52 673.5 126.83 674.5 128.14 675.5 129.46 676.5 130.79 677.5 132.12 678.5 133.45 679.5 134.78 680.5 136.13 681.5 137.47 682.5 138.82 683.5 140.18 684.5 141.54 685.5 142.90 686.5 144.27 687.5 145.65 688.5 147.02 689.5 148.41 690.5 149.80 691.5 151.19 692.5 152.59 693.5 153.99 694.5 155.40 695.5 156.81 696.5 158.23 697.5 159.66 698.5 161.09 699.5 162.52 700.5 163.96 701.5 165.40 702.5 166.85 703.5 168.31 704.5 169.77 705.5 171.23 706.5 172.71 707.5 174.18 708.5 175.66 709.5 177.15 710.5 178.63 711.5 180.13 712.5 181.63 713.5 183.13 714.5 184.64 715.5 186.15 716.5 187.66 717.5 189.18 718.5 190.71 719.5 192.24 720.5 193.77 721.5 195.30 722.5 196.84 723.5 198.39 724.5 199.94 725.5 201.49 726.5 203.04 727.5 204.60 728.5 206.16 729.5 207.72 730.5 209.29 731.5 210.86 732.5 212.44 733.5 214.01 734.5 215.60 735.5 217.18 736.5 218.76 737.5 220.35 738.5 221.94 739.5 223.54 740.5 225.14 741.5 226.73 742.5 228.34 743.5 229.94 744.5 231.55 745.5 233.15 746.5 234.76 747.5 236.38 748.5 237.99 749.5 239.61 750.5 241.23 751.5 242.85 752.5 244.47 753.5 246.09 754.5 247.72 755.5 249.34 756.5 250.97 757.5 252.60 758.5 254.23 759.5 255.86 760.5 257.50 761.5 259.13 762.5 260.77 763.5 262.40 764.5 264.04 765.5 265.68 766.5 267.32 767.5 268.96 768.5 270.60 769.5 272.24 770.5 273.88 771.5 275.52 772.5 277.16 773.5 278.80 774.5 280.45 775.5 282.09 776.5 283.73 777.5 285.37 778.5 287.01 779.5 288.66 780.5 290.30 781.5 291.94 782.5 293.58 783.5 295.22 784.5 296.86 785.5 298.50 786.5 300.14 787.5 301.78 788.5 303.41 789.5 305.05 790.5 306.69 791.5 308.32 792.5 309.95 793.5 311.59 794.5 313.22 795.5 314.85 796.5 316.48 797.5 318.10 798.5 319.73 799.5 321.35 800.5 322.98 801.5 324.60 802.5 326.21 803.5 327.83 804.5 329.45 805.5 331.06 806.5 332.67 807.5 334.28 808.5 335.89 809.5 337.49 810.5 339.09 811.5 340.69 812.5 342.29 813.5 343.88 814.5 345.48 815.5 347.07 816.5 348.65 817.5 350.24 818.5 351.82 819.5 353.39 820.5 354.97 821.5 356.54 822.5 358.11 823.5 359.68 824.5 361.24 825.5 362.80 826.5 364.35 827.5 365.90 828.5 367.45 829.5 369.00 830.5 370.54 831.5 372.07 832.5 373.61 833.5 375.14 834.5 376.66 835.5 378.18 836.5 379.70 837.5 381.21 838.5 382.72 839.5 384.22 840.5 385.72 841.5 387.22 842.5 388.71 843.5 390.19 844.5 391.67 845.5 393.15 846.5 394.62 847.5 396.09 848.5 397.55 849.5 399.00 850.5 400.45 851.5 401.89 852.5 403.32 853.5 404.75 854.5 406.16 855.5 407.57 856.5 408.97 857.5 410.37 858.5 411.75 859.5 413.13 860.5 414.49 861.5 415.85 862.5 417.19 863.5 418.53 864.5 419.85 865.5 421.16 866.5 422.47 867.5 423.76 868.5 425.03 869.5 426.30 870.5 427.55 871.5 428.79 872.5 430.02 873.5 431.23 874.5 432.43 875.5 433.62 876.5 434.79 877.5 435.95 878.5 437.09 879.5 438.21 880.5 439.32 881.5 440.42 882.5 441.50 883.5 442.56 884.5 443.60 885.5 444.63 886.5 445.64 887.5 446.63 888.5 447.60 889.5 448.56 890.5 449.50 891.5 450.41 892.5 451.31 893.5 452.19 894.5 453.05 895.5 453.89 896.5 454.70 897.5 455.50 898.5 456.28 899.5 457.03 900.5 457.76 901.5 458.47 902.5 459.16 903.5 459.82 904.5 460.47 905.5 461.08 906.5 461.68 907.5 462.25 908.5 462.80 909.5 463.32 910.5 463.82 911.5 464.29 912.5 464.73 913.5 465.15 914.5 465.55 915.5 465.92 916.5 466.26 917.5 466.57 918.5 466.86 919.5 467.12 920.5 467.35 921.5 467.55 922.5 467.73 923.5 467.87 924.5 467.99 924.7 468.01" stroke="#ff0000" stroke-width="1.3" fill="none" stroke-linejoin="round"/>
<path d="M124.01 664.00V656.80M139.10 664.00V656.80M154.20 664.00V656.80M169.30 664.00V650.50M184.40 664.00V656.80M199.50 664.00V656.80M214.59 664.00V656.80M229.69 664.00V656.80M244.79 664.00V656.80M259.89 664.00V656.80M274.99 664.00V656.80M290.08 664.00V656.80M305.18 664.00V656.80M320.28 664.00V650.50M335.38 664.00V656.80M350.48 664.00V656.80M365.57 664.00V656.80M380.67 664.00V656.80M395.77 664.00V656.80M410.87 664.00V656.80M425.97 664.00V656.80M441.06 664.00V656.80M456.16 664.00V656.80M471.26 664.00V650.50M486.36 664.00V656.80M501.46 664.00V656.80M516.55 664.00V656.80M531.65 664.00V656.80M546.75 664.00V656.80M561.85 664.00V656.80M576.95 664.00V656.80M592.04 664.00V656.80M607.14 664.00V656.80M622.24 664.00V650.50M637.34 664.00V656.80M652.44 664.00V656.80M667.53 664.00V656.80M682.63 664.00V656.80M697.73 664.00V656.80M712.83 664.00V656.80M727.93 664.00V656.80M743.02 664.00V656.80M758.12 664.00V656.80M773.22 664.00V650.50M788.32 664.00V656.80M803.42 664.00V656.80M818.51 664.00V656.80M833.61 664.00V656.80M848.71 664.00V656.80M863.81 664.00V656.80M878.91 664.00V656.80M894.00 664.00V656.80M909.10 664.00V656.80M924.20 664.00V650.50M939.30 664.00V656.80M954.40 664.00V656.80M969.49 664.00V656.80M984.59 664.00V656.80M109.00 6.39H116.20M109.00 17.08H116.20M109.00 27.78H116.20M109.00 38.47H116.20M109.00 49.17H116.20M109.00 59.86H122.50M109.00 70.55H116.20M109.00 81.25H116.20M109.00 91.94H116.20M109.00 102.64H116.20M109.00 113.33H116.20M109.00 124.02H116.20M109.00 134.72H116.20M109.00 145.41H116.20M109.00 156.11H116.20M109.00 166.80H122.50M109.00 177.49H116.20M109.00 188.19H116.20M109.00 198.88H116.20M109.00 209.58H116.20M109.00 220.27H116.20M109.00 230.96H116.20M109.00 241.66H116.20M109.00 252.35H116.20M109.00 263.05H116.20M109.00 273.74H122.50M109.00 284.43H116.20M109.00 295.13H116.20M109.00 305.82H116.20M109.00 316.52H116.20M109.00 327.21H116.20M109.00 337.90H116.20M109.00 348.60H116.20M109.00 359.29H116.20M109.00 369.99H116.20M109.00 380.68H122.50M109.00 391.37H116.20M109.00 402.07H116.20M109.00 412.76H116.20M109.00 423.46H116.20M109.00 434.15H116.20M109.00 444.84H116.20M109.00 455.54H116.20M109.00 466.23H116.20M109.00 476.93H116.20M109.00 487.62H122.50M109.00 498.31H116.20M109.00 509.01H116.20M109.00 519.70H116.20M109.00 530.40H116.20M109.00 541.09H116.20M109.00 551.78H116.20M109.00 562.48H116.20M109.00 573.17H116.20M109.00 583.87H116.20M109.00 594.56H122.50M109.00 605.25H116.20M109.00 615.95H116.20M109.00 626.64H116.20M109.00 637.34H116.20M109.00 648.03H116.20M109.00 658.72H116.20M126.40 1.00V8.20M144.22 1.00V8.20M162.05 1.00V8.20M179.88 1.00V8.20M197.70 1.00V14.50M215.52 1.00V8.20M233.35 1.00V8.20M251.17 1.00V8.20M269.00 1.00V8.20M286.82 1.00V8.20M304.65 1.00V8.20M322.47 1.00V8.20M340.30 1.00V8.20M358.12 1.00V8.20M375.95 1.00V14.50M393.77 1.00V8.20M411.60 1.00V8.20M429.42 1.00V8.20M447.25 1.00V8.20M465.07 1.00V8.20M482.90 1.00V8.20M500.72 1.00V8.20M518.55 1.00V8.20M536.38 1.00V8.20M554.20 1.00V14.50M572.02 1.00V8.20M589.85 1.00V8.20M607.67 1.00V8.20M625.50 1.00V8.20M643.33 1.00V8.20M661.15 1.00V8.20M678.97 1.00V8.20M696.80 1.00V8.20M714.62 1.00V8.20M732.45 1.00V14.50M750.27 1.00V8.20M768.10 1.00V8.20M785.92 1.00V8.20M803.75 1.00V8.20M821.58 1.00V8.20M839.40 1.00V8.20M857.22 1.00V8.20M875.05 1.00V8.20M892.88 1.00V8.20M910.70 1.00V14.50M928.52 1.00V8.20M946.35 1.00V8.20M964.17 1.00V8.20M982.00 1.00V8.20M999.80 6.26H992.40M999.80 20.99H992.40M999.80 35.72H992.40M999.80 50.45H986.10M999.80 65.18H992.40M999.80 79.91H992.40M999.80 94.64H992.40M999.80 109.37H992.40M999.80 124.09H992.40M999.80 138.82H992.40M999.80 153.55H992.40M999.80 168.28H992.40M999.80 183.01H992.40M999.80 197.74H986.10M999.80 212.47H992.40M999.80 227.20H992.40M999.80 241.93H992.40M999.80 256.66H992.40M999.80 271.38H992.40M999.80 286.11H992.40M999.80 300.84H992.40M999.80 315.57H992.40M999.80 330.30H992.40M999.80 345.03H986.10M999.80 359.76H992.40M999.80 374.49H992.40M999.80 389.22H992.40M999.80 403.95H992.40M999.80 418.67H992.40M999.80 433.40H992.40M999.80 448.13H992.40M999.80 462.86H992.40M999.80 477.59H992.40M999.80 492.32H986.10M999.80 507.05H992.40M999.80 521.78H992.40M999.80 536.51H992.40M999.80 551.24H992.40M999.80 565.97H992.40M999.80 580.69H992.40M999.80 595.42H992.40M999.80 610.15H992.40M999.80 624.88H992.40M999.80 639.61H986.10M999.80 654.34H992.40" stroke="#000" stroke-width="2" fill="none" stroke-linecap="butt"/>
<path d="M109 1H999.8V664H109Z" stroke="#000" stroke-width="2" fill="none"/>
<rect x="998.6" y="0" width="2.4" height="665" fill="#000"/>
<text x="59.2" y="69.16" class="t33">16</text>
<text x="59.2" y="176.10" class="t33">18</text>
<text x="59.2" y="283.04" class="t33">20</text>
<text x="59.2" y="389.98" class="t33">22</text>
<text x="59.2" y="496.92" class="t33">24</text>
<text x="59.2" y="603.86" class="t33">26</text>
<text x="169.30" y="700.7" text-anchor="middle" class="t33">2</text>
<text x="320.28" y="700.7" text-anchor="middle" class="t33">3</text>
<text x="471.26" y="700.7" text-anchor="middle" class="t33">4</text>
<text x="622.24" y="700.7" text-anchor="middle" class="t33">5</text>
<text x="773.22" y="700.7" text-anchor="middle" class="t33">6</text>
<text x="924.20" y="700.7" text-anchor="middle" class="t33">7</text>
<text x="490.25" y="754.7" class="t405">log t (s)</text>
<text transform="translate(29.7,519.5) rotate(-90) scale(0.9438,1)" class="t426">Brightnss (mag</text>
<text transform="translate(44.8,248.9) rotate(-90)" style="font-size:24.3px">AB</text>
<text transform="translate(29.7,216.05) rotate(-90) scale(0.9438,1)" class="t426">)</text>
<text transform="translate(390.5,62.27) scale(1.1016,0.908)" class="tser">α</text>
<text x="407.66" y="74.3" style="font-size:18.4px">opt</text>
<text transform="translate(433.5,62.35) scale(0.942,1)" class="t33">=0.57</text>
<path d="M513.6 51.5H527.5M520.6 44.4V58.6M513.6 61.1H527.5" stroke="#000" stroke-width="1.35" fill="none" stroke-linecap="round"/>
<text transform="translate(528.1,62.35) scale(0.96,1)" class="t33">0.02</text>
<text transform="translate(146.3,364.0) scale(0.941,1)" class="t335" style="fill:#ff0000;stroke:#ff0000">K<tspan style="font-size:17px" dy="12.4">s</tspan><tspan dy="-12.4"> - 1.5 mag</tspan></text>
<text transform="translate(146.3,413.0) scale(0.941,1)" class="t335" style="fill:#ff8000;stroke:#ff8000">H - 1.0 mag</text>
<text transform="translate(146.3,451.0) scale(0.941,1)" class="t335" style="fill:#ff00ff;stroke:#ff00ff">J - 0.5 mag</text>
<text transform="translate(146.3,488.6) scale(0.941,1)" class="t335" style="fill:#00ff00;stroke:#00ff00">z'</text>
<text transform="translate(146.3,527.4) scale(0.941,1)" class="t335" style="fill:#00ffff;stroke:#00ffff">i' + 0.5 mag</text>
<text transform="translate(146.3,565.4) scale(0.941,1)" class="t335" style="fill:#0000ff;stroke:#0000ff">r' + 1.0 mag</text>
<text transform="translate(146.3,603.4) scale(0.941,1)" class="t335" style="fill:#800080;stroke:#800080">g' + 1.5 mag</text>
</svg>
</body></html>
